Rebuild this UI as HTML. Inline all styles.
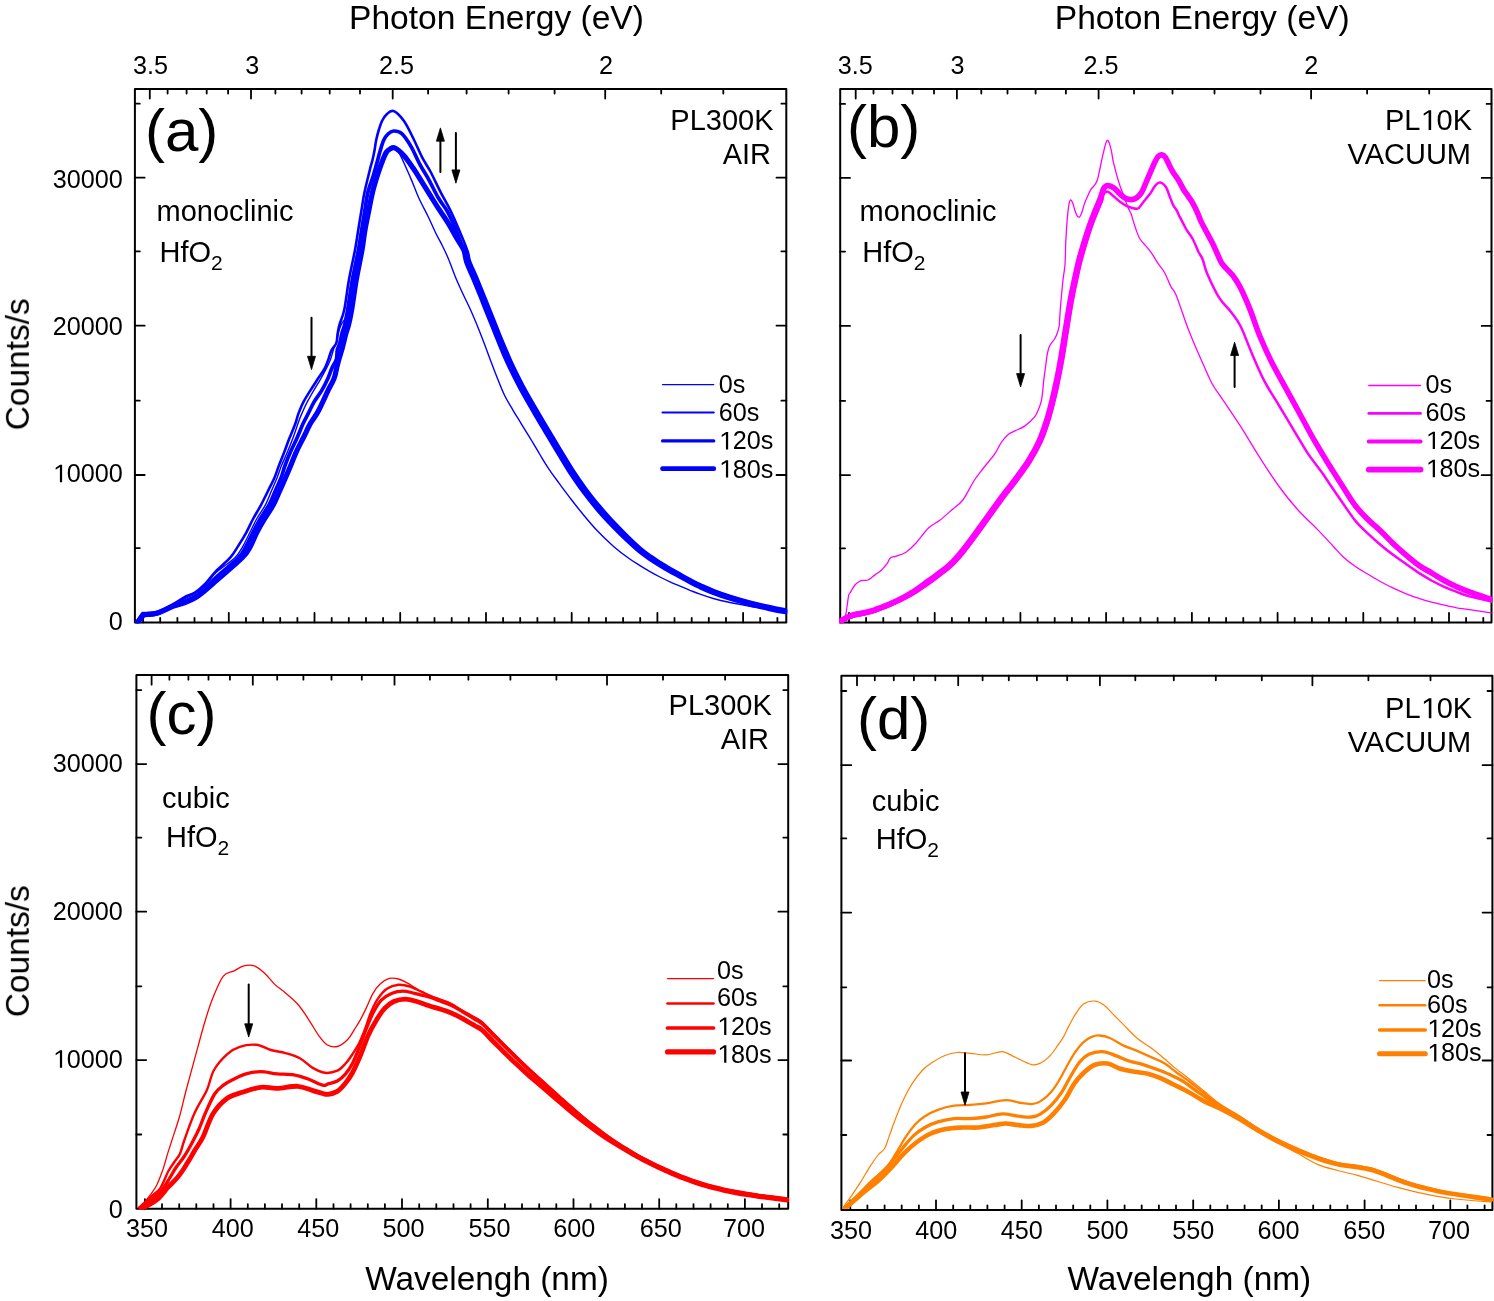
<!DOCTYPE html>
<html><head><meta charset="utf-8"><title>PL spectra HfO2</title>
<style>html,body{margin:0;padding:0;background:#fff;overflow:hidden}svg{display:block}</style>
</head><body>
<svg width="1494" height="1301" viewBox="0 0 1494 1301">
<rect width="1494" height="1301" fill="#fff"/>
<defs>
<clipPath id="clipa"><rect x="133.9" y="88.0" width="653.4" height="535.4"/></clipPath>
<clipPath id="clipb"><rect x="839.2" y="88.0" width="653.3" height="535.4"/></clipPath>
<clipPath id="clipc"><rect x="135.4" y="674.1" width="653.8" height="535.6"/></clipPath>
<clipPath id="clipd"><rect x="840.4" y="674.7" width="653.0" height="536.2"/></clipPath>
</defs>
<rect x="134.9" y="89.0" width="651.4" height="533.4" fill="none" stroke="#000" stroke-width="2" stroke-linejoin="round"/>
<path d="M134.9,548.1 h4.9 M786.3,548.1 h-4.9 M134.9,475.0 h9.8 M786.3,475.0 h-9.8 M134.9,400.7 h4.9 M786.3,400.7 h-4.9 M134.9,325.7 h9.8 M786.3,325.7 h-9.8 M134.9,251.4 h4.9 M786.3,251.4 h-4.9 M134.9,177.7 h9.8 M786.3,177.7 h-9.8 M134.9,103.7 h4.9 M786.3,103.7 h-4.9 M143.1,622.4 v-9.6 M160.2,622.4 v-4.6 M177.4,622.4 v-4.6 M194.5,622.4 v-4.6 M211.7,622.4 v-4.6 M228.8,622.4 v-9.6 M246.0,622.4 v-4.6 M263.1,622.4 v-4.6 M280.2,622.4 v-4.6 M297.4,622.4 v-4.6 M314.5,622.4 v-9.6 M331.7,622.4 v-4.6 M348.8,622.4 v-4.6 M366.0,622.4 v-4.6 M383.1,622.4 v-4.6 M400.2,622.4 v-9.6 M417.4,622.4 v-4.6 M434.5,622.4 v-4.6 M451.7,622.4 v-4.6 M468.8,622.4 v-4.6 M486.0,622.4 v-9.6 M503.1,622.4 v-4.6 M520.2,622.4 v-4.6 M537.4,622.4 v-4.6 M554.5,622.4 v-4.6 M571.7,622.4 v-9.6 M588.8,622.4 v-4.6 M606.0,622.4 v-4.6 M623.1,622.4 v-4.6 M640.2,622.4 v-4.6 M657.4,622.4 v-9.6 M674.5,622.4 v-4.6 M691.7,622.4 v-4.6 M708.8,622.4 v-4.6 M726.0,622.4 v-4.6 M743.1,622.4 v-9.6 M760.2,622.4 v-4.6 M777.4,622.4 v-4.6 M723.3,89.0 v4.6 M661.2,89.0 v4.6 M605.2,89.0 v9.6 M554.6,89.0 v4.6 M508.6,89.0 v4.6 M466.6,89.0 v4.6 M428.1,89.0 v4.6 M392.7,89.0 v9.6 M360.0,89.0 v4.6 M329.7,89.0 v4.6 M301.6,89.0 v4.6 M275.4,89.0 v4.6 M251.0,89.0 v9.6 M228.1,89.0 v4.6 M206.7,89.0 v4.6 M186.6,89.0 v4.6 M167.6,89.0 v4.6 M149.8,89.0 v9.6" stroke="#000" stroke-width="1.8" stroke-linecap="round" fill="none"/>
<rect x="840.2" y="89.0" width="651.3" height="533.4" fill="none" stroke="#000" stroke-width="2" stroke-linejoin="round"/>
<path d="M840.2,548.3 h4.9 M1491.5,548.3 h-4.9 M840.2,475.2 h9.8 M1491.5,475.2 h-9.8 M840.2,400.9 h4.9 M1491.5,400.9 h-4.9 M840.2,325.9 h9.8 M1491.5,325.9 h-9.8 M840.2,251.6 h4.9 M1491.5,251.6 h-4.9 M840.2,177.9 h9.8 M1491.5,177.9 h-9.8 M840.2,103.9 h4.9 M1491.5,103.9 h-4.9 M849.0,622.4 v-9.6 M866.1,622.4 v-4.6 M883.3,622.4 v-4.6 M900.4,622.4 v-4.6 M917.6,622.4 v-4.6 M934.7,622.4 v-9.6 M951.9,622.4 v-4.6 M969.0,622.4 v-4.6 M986.1,622.4 v-4.6 M1003.3,622.4 v-4.6 M1020.4,622.4 v-9.6 M1037.6,622.4 v-4.6 M1054.7,622.4 v-4.6 M1071.9,622.4 v-4.6 M1089.0,622.4 v-4.6 M1106.1,622.4 v-9.6 M1123.3,622.4 v-4.6 M1140.4,622.4 v-4.6 M1157.6,622.4 v-4.6 M1174.7,622.4 v-4.6 M1191.9,622.4 v-9.6 M1209.0,622.4 v-4.6 M1226.1,622.4 v-4.6 M1243.3,622.4 v-4.6 M1260.4,622.4 v-4.6 M1277.6,622.4 v-9.6 M1294.7,622.4 v-4.6 M1311.9,622.4 v-4.6 M1329.0,622.4 v-4.6 M1346.1,622.4 v-4.6 M1363.3,622.4 v-9.6 M1380.4,622.4 v-4.6 M1397.6,622.4 v-4.6 M1414.7,622.4 v-4.6 M1431.9,622.4 v-4.6 M1449.0,622.4 v-9.6 M1466.1,622.4 v-4.6 M1483.3,622.4 v-4.6 M1429.2,89.0 v4.6 M1367.1,89.0 v4.6 M1311.1,89.0 v9.6 M1260.5,89.0 v4.6 M1214.5,89.0 v4.6 M1172.5,89.0 v4.6 M1134.0,89.0 v4.6 M1098.6,89.0 v9.6 M1065.9,89.0 v4.6 M1035.6,89.0 v4.6 M1007.5,89.0 v4.6 M981.3,89.0 v4.6 M956.9,89.0 v9.6 M934.0,89.0 v4.6 M912.6,89.0 v4.6 M892.5,89.0 v4.6 M873.5,89.0 v4.6 M855.7,89.0 v9.6" stroke="#000" stroke-width="1.8" stroke-linecap="round" fill="none"/>
<rect x="136.4" y="675.1" width="651.8" height="533.6" fill="none" stroke="#000" stroke-width="2" stroke-linejoin="round"/>
<path d="M136.4,1134.5 h4.9 M788.2,1134.5 h-4.9 M136.4,1060.1 h9.8 M788.2,1060.1 h-9.8 M136.4,986.3 h4.9 M788.2,986.3 h-4.9 M136.4,911.7 h9.8 M788.2,911.7 h-9.8 M136.4,837.6 h4.9 M788.2,837.6 h-4.9 M136.4,764.1 h9.8 M788.2,764.1 h-9.8 M136.4,690.1 h4.9 M788.2,690.1 h-4.9 M144.9,1208.7 v-9.6 M162.0,1208.7 v-4.6 M179.2,1208.7 v-4.6 M196.3,1208.7 v-4.6 M213.5,1208.7 v-4.6 M230.6,1208.7 v-9.6 M247.8,1208.7 v-4.6 M264.9,1208.7 v-4.6 M282.0,1208.7 v-4.6 M299.2,1208.7 v-4.6 M316.3,1208.7 v-9.6 M333.5,1208.7 v-4.6 M350.6,1208.7 v-4.6 M367.8,1208.7 v-4.6 M384.9,1208.7 v-4.6 M402.0,1208.7 v-9.6 M419.2,1208.7 v-4.6 M436.3,1208.7 v-4.6 M453.5,1208.7 v-4.6 M470.6,1208.7 v-4.6 M487.8,1208.7 v-9.6 M504.9,1208.7 v-4.6 M522.0,1208.7 v-4.6 M539.2,1208.7 v-4.6 M556.3,1208.7 v-4.6 M573.5,1208.7 v-9.6 M590.6,1208.7 v-4.6 M607.8,1208.7 v-4.6 M624.9,1208.7 v-4.6 M642.0,1208.7 v-4.6 M659.2,1208.7 v-9.6 M676.3,1208.7 v-4.6 M693.5,1208.7 v-4.6 M710.6,1208.7 v-4.6 M727.8,1208.7 v-4.6 M744.9,1208.7 v-9.6 M762.0,1208.7 v-4.6 M779.2,1208.7 v-4.6 M725.1,675.1 v4.6 M663.0,675.1 v4.6 M607.0,675.1 v9.6 M556.4,675.1 v4.6 M510.4,675.1 v4.6 M468.4,675.1 v4.6 M429.9,675.1 v4.6 M394.5,675.1 v9.6 M361.8,675.1 v4.6 M331.5,675.1 v4.6 M303.4,675.1 v4.6 M277.2,675.1 v4.6 M252.8,675.1 v9.6 M229.9,675.1 v4.6 M208.5,675.1 v4.6 M188.4,675.1 v4.6 M169.4,675.1 v4.6 M151.6,675.1 v9.6" stroke="#000" stroke-width="1.8" stroke-linecap="round" fill="none"/>
<rect x="841.4" y="675.7" width="651.0" height="534.2" fill="none" stroke="#000" stroke-width="2" stroke-linejoin="round"/>
<path d="M841.4,1135.0 h4.9 M1492.4,1135.0 h-4.9 M841.4,1060.5 h9.8 M1492.4,1060.5 h-9.8 M841.4,987.3 h4.9 M1492.4,987.3 h-4.9 M841.4,912.6 h9.8 M1492.4,912.6 h-9.8 M841.4,838.4 h4.9 M1492.4,838.4 h-4.9 M841.4,765.2 h9.8 M1492.4,765.2 h-9.8 M841.4,691.0 h4.9 M1492.4,691.0 h-4.9 M850.3,1209.9 v-9.6 M867.4,1209.9 v-4.6 M884.6,1209.9 v-4.6 M901.7,1209.9 v-4.6 M918.9,1209.9 v-4.6 M936.0,1209.9 v-9.6 M953.2,1209.9 v-4.6 M970.3,1209.9 v-4.6 M987.4,1209.9 v-4.6 M1004.6,1209.9 v-4.6 M1021.7,1209.9 v-9.6 M1038.9,1209.9 v-4.6 M1056.0,1209.9 v-4.6 M1073.2,1209.9 v-4.6 M1090.3,1209.9 v-4.6 M1107.4,1209.9 v-9.6 M1124.6,1209.9 v-4.6 M1141.7,1209.9 v-4.6 M1158.9,1209.9 v-4.6 M1176.0,1209.9 v-4.6 M1193.2,1209.9 v-9.6 M1210.3,1209.9 v-4.6 M1227.4,1209.9 v-4.6 M1244.6,1209.9 v-4.6 M1261.7,1209.9 v-4.6 M1278.9,1209.9 v-9.6 M1296.0,1209.9 v-4.6 M1313.2,1209.9 v-4.6 M1330.3,1209.9 v-4.6 M1347.4,1209.9 v-4.6 M1364.6,1209.9 v-9.6 M1381.7,1209.9 v-4.6 M1398.9,1209.9 v-4.6 M1416.0,1209.9 v-4.6 M1433.2,1209.9 v-4.6 M1450.3,1209.9 v-9.6 M1467.4,1209.9 v-4.6 M1484.6,1209.9 v-4.6 M1430.5,675.7 v4.6 M1368.4,675.7 v4.6 M1312.4,675.7 v9.6 M1261.8,675.7 v4.6 M1215.8,675.7 v4.6 M1173.8,675.7 v4.6 M1135.3,675.7 v4.6 M1099.9,675.7 v9.6 M1067.2,675.7 v4.6 M1036.9,675.7 v4.6 M1008.8,675.7 v4.6 M982.6,675.7 v4.6 M958.2,675.7 v9.6 M935.3,675.7 v4.6 M913.9,675.7 v4.6 M893.8,675.7 v4.6 M874.8,675.7 v4.6 M857.0,675.7 v9.6" stroke="#000" stroke-width="1.8" stroke-linecap="round" fill="none"/>
<g clip-path="url(#clipa)">
<path d="M138.0,622.0 C138.5,621.3 140.0,619.2 141.0,618.0 C142.0,616.8 143.5,615.2 144.0,614.6 C144.5,614.0 141.8,614.9 144.0,614.6 C146.2,614.3 152.5,614.4 157.4,613.0 C162.3,611.6 169.0,607.8 173.5,606.1 C178.0,604.4 180.6,604.1 184.2,602.8 C187.8,601.4 191.3,600.1 194.9,598.0 C198.5,595.9 202.1,592.9 205.6,590.0 C209.1,587.1 209.9,586.3 216.0,580.9 C222.1,575.5 236.5,563.5 242.2,557.7 C248.0,551.9 248.1,550.3 250.5,546.1 C252.9,541.9 254.5,536.9 256.9,532.3 C259.3,527.7 262.0,523.1 264.8,518.5 C267.6,513.9 271.0,509.2 273.5,504.6 C276.0,500.0 277.6,495.5 279.6,491.0 C281.6,486.5 283.7,481.8 285.5,477.7 C287.3,473.6 288.7,470.3 290.5,466.1 C292.3,461.9 294.0,456.9 296.1,452.3 C298.2,447.7 300.6,443.2 303.0,438.5 C305.4,433.8 307.9,428.0 310.2,423.8 C312.5,419.6 314.9,417.0 317.0,413.4 C319.1,409.8 320.9,405.7 322.8,401.9 C324.6,398.1 326.2,394.3 328.1,390.4 C330.0,386.5 332.7,382.0 334.1,378.3 C335.5,374.6 335.8,371.6 336.6,368.4 C337.4,365.2 338.0,362.3 338.9,359.2 C339.8,356.1 340.9,352.7 341.7,350.0 C342.5,347.3 342.8,345.8 343.5,343.1 C344.2,340.4 344.9,336.9 345.8,333.8 C346.6,330.7 347.6,328.6 348.6,324.6 C349.6,320.6 350.3,317.4 351.6,310.0 C352.9,302.6 354.5,290.0 356.2,280.0 C357.9,270.0 360.6,258.1 362.0,250.0 C363.4,241.9 363.6,238.2 364.7,231.5 C365.8,224.8 367.6,216.5 368.9,210.0 C370.2,203.5 371.1,198.1 372.5,192.3 C373.9,186.5 375.8,180.4 377.5,175.0 C379.2,169.6 381.3,163.8 382.8,160.0 C384.3,156.2 385.3,153.8 386.5,152.0 C387.7,150.2 388.6,149.7 390.0,149.0 C391.4,148.3 392.7,146.9 395.0,148.0 C397.3,149.1 400.8,152.1 403.8,155.4 C406.8,158.7 410.2,163.8 413.1,168.0 C416.0,172.2 418.2,176.1 421.1,180.7 C424.0,185.3 427.5,191.1 430.4,195.7 C433.3,200.3 435.5,204.0 438.4,208.4 C441.3,212.8 444.6,217.3 447.7,222.3 C450.8,227.3 454.2,233.8 456.9,238.4 C459.6,243.0 462.1,246.0 463.8,250.0 C465.5,254.0 465.1,257.6 466.8,262.5 C468.5,267.4 471.8,274.0 474.1,279.5 C476.4,285.0 478.6,290.3 480.7,295.5 C482.8,300.7 484.6,305.5 486.6,310.5 C488.6,315.5 490.8,320.8 492.7,325.5 C494.6,330.2 496.2,334.4 498.0,338.8 C499.8,343.3 501.6,347.7 503.5,352.2 C505.4,356.6 507.2,360.8 509.5,365.6 C511.7,370.3 514.3,375.6 516.9,380.6 C519.4,385.6 522.1,390.6 524.9,395.6 C527.7,400.6 530.7,405.7 533.6,410.7 C536.5,415.7 539.4,420.7 542.4,425.7 C545.3,430.7 548.4,435.7 551.4,440.7 C554.4,445.7 557.2,450.4 560.4,455.7 C563.6,461.0 566.8,466.5 570.6,472.4 C574.5,478.2 578.8,484.7 583.4,490.8 C587.9,496.9 592.8,503.1 597.8,509.0 C602.9,514.9 608.7,521.1 613.6,526.2 C618.5,531.3 622.9,535.6 627.2,539.7 C631.5,543.7 635.6,547.5 639.3,550.6 C643.0,553.7 646.1,555.8 649.4,558.1 C652.8,560.4 656.1,562.5 659.5,564.5 C662.8,566.6 666.2,568.6 669.5,570.5 C672.9,572.4 676.2,574.1 679.6,576.0 C682.9,577.8 686.3,579.7 689.6,581.4 C692.9,583.2 695.7,584.7 699.6,586.5 C703.6,588.3 708.0,590.3 713.0,592.2 C718.0,594.1 723.6,596.1 729.7,598.1 C735.9,600.0 743.3,602.2 749.8,603.9 C756.2,605.6 762.5,607.0 768.5,608.4 C774.5,609.7 782.9,611.3 785.8,611.8" fill="none" stroke="#0000ff" stroke-width="5.20" stroke-linejoin="round" stroke-linecap="round"/>
<path d="M137.5,621.8 C138.0,621.1 139.3,619.1 140.3,617.8 C141.3,616.5 142.7,614.4 143.3,614.0 C143.9,613.6 141.7,615.4 144.0,615.3 C146.3,615.3 152.5,615.2 157.4,613.7 C162.3,612.2 169.0,608.3 173.5,606.3 C178.0,604.2 180.6,603.0 184.2,601.4 C187.8,599.7 191.3,598.8 194.9,596.6 C198.5,594.3 202.1,591.2 205.6,588.0 C209.1,584.8 210.5,582.4 216.0,577.3 C221.5,572.3 233.4,562.9 238.4,557.7 C243.4,552.5 243.7,550.3 246.1,546.1 C248.5,541.9 250.6,536.9 253.0,532.3 C255.4,527.7 257.7,523.1 260.4,518.5 C263.1,513.9 266.7,509.2 269.2,504.6 C271.7,500.0 273.2,495.5 275.2,491.0 C277.2,486.5 279.5,481.8 281.1,477.7 C282.7,473.6 283.3,470.3 284.8,466.1 C286.3,461.9 288.3,456.9 290.3,452.3 C292.3,447.7 294.7,443.2 296.8,438.5 C298.9,433.8 301.1,428.0 303.0,423.8 C304.9,419.6 306.4,417.0 308.3,413.4 C310.2,409.8 311.9,405.7 314.1,401.9 C316.4,398.1 319.5,394.3 321.8,390.4 C324.1,386.5 326.3,382.0 328.0,378.3 C329.7,374.6 330.4,371.6 331.8,368.4 C333.2,365.2 335.5,362.3 336.4,359.2 C337.3,356.1 336.7,352.7 337.3,350.0 C337.9,347.3 339.1,345.8 339.8,343.1 C340.6,340.4 341.0,336.9 341.8,333.8 C342.6,330.7 343.7,328.6 344.7,324.6 C345.7,320.6 346.3,317.4 347.6,310.0 C348.9,302.6 350.5,290.0 352.3,280.0 C354.1,270.0 356.9,258.1 358.4,250.0 C359.9,241.9 360.3,238.2 361.4,231.5 C362.5,224.8 363.8,216.5 364.9,210.0 C366.0,203.5 366.5,198.1 367.9,192.3 C369.3,186.5 371.9,180.4 373.5,175.0 C375.1,169.6 376.6,164.2 377.7,160.0 C378.8,155.8 379.4,153.3 380.4,150.0 C381.4,146.7 382.5,142.7 383.8,140.0 C385.1,137.3 386.4,135.5 388.0,134.0 C389.6,132.5 391.2,131.1 393.5,131.0 C395.8,130.9 398.6,130.9 401.5,133.4 C404.4,135.9 407.7,140.9 410.8,146.1 C413.9,151.3 417.1,159.2 420.0,164.6 C422.9,170.0 425.0,172.8 428.1,178.4 C431.2,184.0 435.1,192.4 438.4,198.0 C441.7,203.6 444.8,206.7 447.7,212.0 C450.6,217.3 452.6,221.7 456.0,230.0 C459.4,238.3 465.0,253.7 468.3,261.9 C471.5,270.0 473.3,273.4 475.6,278.9 C477.9,284.4 480.1,289.7 482.2,294.9 C484.3,300.1 486.1,304.9 488.1,309.9 C490.1,314.9 492.3,320.2 494.1,324.9 C496.0,329.6 497.7,333.8 499.5,338.2 C501.3,342.7 503.1,347.1 505.0,351.5 C506.9,356.0 508.7,360.2 510.9,364.9 C513.1,369.6 515.7,374.9 518.3,379.9 C520.9,384.9 523.5,389.9 526.3,394.9 C529.0,399.9 532.1,404.8 535.0,409.8 C537.9,414.8 540.8,419.8 543.8,424.8 C546.7,429.8 549.8,434.8 552.8,439.8 C555.8,444.8 558.6,449.6 561.8,454.8 C565.0,460.1 568.2,465.7 572.0,471.5 C575.8,477.3 580.1,483.7 584.6,489.8 C589.1,495.9 594.0,502.1 599.0,508.0 C604.0,513.9 609.8,520.1 614.7,525.2 C619.6,530.3 623.9,534.6 628.2,538.6 C632.4,542.7 636.5,546.5 640.2,549.6 C643.8,552.7 646.8,554.8 650.1,557.1 C653.5,559.4 656.8,561.4 660.1,563.5 C663.4,565.6 666.8,567.6 670.1,569.5 C673.4,571.4 676.8,573.2 680.1,575.1 C683.4,576.9 686.8,578.8 690.1,580.5 C693.4,582.3 696.2,583.8 700.1,585.6 C704.0,587.4 708.4,589.3 713.4,591.2 C718.4,593.1 724.0,595.1 730.1,597.1 C736.2,599.0 743.6,601.2 750.1,602.9 C756.5,604.6 762.7,606.0 768.7,607.3 C774.7,608.7 783.1,610.2 786.0,610.8" fill="none" stroke="#0000ff" stroke-width="3.70" stroke-linejoin="round" stroke-linecap="round"/>
<path d="M136.8,621.5 C137.2,620.8 138.6,618.9 139.5,617.5 C140.4,616.1 141.8,613.9 142.5,613.2 C143.2,612.5 141.5,613.6 144.0,613.4 C146.5,613.2 152.5,613.4 157.4,611.8 C162.3,610.2 169.0,606.2 173.5,603.8 C178.0,601.4 180.6,599.2 184.2,597.3 C187.8,595.4 191.3,594.8 194.9,592.5 C198.5,590.2 202.1,587.0 205.6,583.4 C209.1,579.8 211.9,575.4 216.0,571.1 C220.1,566.8 226.5,561.9 230.2,557.7 C233.9,553.5 235.4,550.3 238.1,546.1 C240.8,541.9 243.9,536.9 246.4,532.3 C248.9,527.7 250.8,523.1 253.3,518.5 C255.8,513.9 258.8,509.2 261.2,504.6 C263.6,500.0 265.8,495.5 268.0,491.0 C270.2,486.5 272.7,481.8 274.5,477.7 C276.3,473.6 277.1,470.3 278.7,466.1 C280.3,461.9 282.4,456.9 284.2,452.3 C286.0,447.7 287.4,443.2 289.3,438.5 C291.2,433.8 293.8,428.0 295.3,423.8 C296.8,419.6 297.1,417.0 298.5,413.4 C299.9,409.8 301.5,405.7 303.5,401.9 C305.5,398.1 307.9,394.3 310.4,390.4 C312.8,386.5 315.8,382.0 318.2,378.3 C320.6,374.6 323.0,371.6 324.7,368.4 C326.4,365.2 327.2,362.3 328.4,359.2 C329.5,356.1 330.3,352.7 331.6,350.0 C332.9,347.3 335.3,345.8 336.3,343.1 C337.3,340.4 337.1,336.9 337.6,333.8 C338.1,330.7 338.4,328.6 339.5,324.6 C340.6,320.6 342.6,317.4 344.2,310.0 C345.8,302.6 347.1,290.0 348.9,280.0 C350.7,270.0 353.5,258.1 355.0,250.0 C356.5,241.9 356.9,238.2 358.0,231.5 C359.1,224.8 360.4,216.5 361.5,210.0 C362.6,203.5 363.1,199.0 364.5,192.3 C365.9,185.6 368.5,175.4 369.8,170.0 C371.1,164.6 371.7,163.3 372.5,160.0 C373.3,156.7 374.0,153.3 374.6,150.0 C375.2,146.7 375.5,143.3 376.2,140.0 C376.9,136.7 377.8,133.2 378.8,130.0 C379.8,126.8 380.7,123.6 382.0,121.0 C383.3,118.4 384.6,116.2 386.5,114.5 C388.4,112.8 390.6,110.0 393.5,111.0 C396.4,112.0 400.5,116.3 403.8,120.8 C407.1,125.3 410.0,131.8 413.1,138.0 C416.2,144.2 419.4,152.1 422.3,157.7 C425.2,163.3 427.3,165.7 430.4,171.5 C433.5,177.3 437.4,186.0 440.7,192.3 C444.0,198.7 446.9,203.3 450.0,209.6 C453.1,215.9 456.3,223.4 459.2,230.3 C462.1,237.2 465.7,245.9 467.5,251.0 C469.3,256.1 468.4,256.6 470.0,261.1 C471.7,265.7 475.0,272.6 477.3,278.1 C479.6,283.7 481.8,289.0 483.9,294.2 C486.0,299.3 487.9,304.2 489.9,309.2 C491.9,314.2 494.0,319.5 495.9,324.2 C497.8,328.9 499.4,333.1 501.2,337.5 C503.0,341.9 504.9,346.4 506.8,350.8 C508.7,355.2 510.4,359.4 512.6,364.1 C514.8,368.8 517.4,374.0 520.0,379.0 C522.5,384.0 525.1,388.9 527.9,393.9 C530.7,398.9 533.7,403.9 536.6,408.9 C539.5,413.9 542.4,418.9 545.4,423.9 C548.4,428.9 551.4,433.9 554.4,438.9 C557.4,443.9 560.2,448.6 563.4,453.9 C566.6,459.1 569.8,464.7 573.6,470.5 C577.4,476.3 581.7,482.6 586.2,488.7 C590.7,494.7 595.5,500.9 600.5,506.7 C605.4,512.6 611.2,518.9 616.0,524.0 C620.8,529.1 625.1,533.4 629.3,537.4 C633.5,541.5 637.6,545.3 641.2,548.4 C644.8,551.5 647.7,553.5 651.0,555.9 C654.3,558.2 657.6,560.2 660.9,562.3 C664.2,564.4 667.5,566.4 670.8,568.4 C674.1,570.3 677.4,572.1 680.7,574.0 C684.0,575.8 687.3,577.7 690.7,579.4 C694.0,581.2 696.7,582.7 700.6,584.5 C704.5,586.2 708.9,588.2 713.8,590.1 C718.8,592.0 724.3,594.0 730.4,595.9 C736.5,597.8 743.9,600.0 750.4,601.7 C756.8,603.4 763.0,604.8 769.0,606.1 C775.0,607.5 783.4,609.0 786.3,609.6" fill="none" stroke="#0000ff" stroke-width="2.60" stroke-linejoin="round" stroke-linecap="round"/>
<path d="M137.0,621.8 C137.5,621.1 138.8,618.9 139.8,617.5 C140.8,616.1 142.1,613.9 142.8,613.5 C143.5,613.1 141.6,614.9 144.0,614.9 C146.4,614.9 152.5,614.9 157.4,613.3 C162.3,611.7 169.0,607.7 173.5,605.3 C178.0,602.9 180.6,600.7 184.2,598.8 C187.8,596.9 191.3,596.3 194.9,594.0 C198.5,591.7 202.1,588.5 205.6,584.9 C209.1,581.3 211.1,577.1 216.0,572.6 C220.9,568.1 230.5,562.1 235.0,557.7 C239.5,553.3 240.5,550.3 243.0,546.1 C245.5,541.9 247.7,536.9 250.0,532.3 C252.3,527.7 254.3,523.1 256.9,518.5 C259.5,513.9 263.2,509.2 265.6,504.6 C268.0,500.0 269.5,495.5 271.4,491.0 C273.3,486.5 275.4,481.8 277.1,477.7 C278.8,473.6 279.6,470.3 281.3,466.1 C283.0,461.9 285.4,456.9 287.3,452.3 C289.2,447.7 291.0,443.2 292.8,438.5 C294.6,433.8 296.4,428.0 297.9,423.8 C299.4,419.6 300.3,417.0 301.9,413.4 C303.5,409.8 305.3,405.7 307.3,401.9 C309.3,398.1 311.5,394.3 313.8,390.4 C316.1,386.5 318.9,382.0 321.0,378.3 C323.1,374.6 324.8,371.6 326.4,368.4 C328.0,365.2 329.4,362.3 330.6,359.2 C331.8,356.1 332.4,352.7 333.3,350.0 C334.2,347.3 335.4,345.8 336.2,343.1 C337.0,340.4 337.4,336.9 338.2,333.8 C339.0,330.7 339.3,328.6 341.2,324.6 C343.1,320.6 347.3,317.4 349.5,310.0 C351.7,302.6 352.7,290.0 354.5,280.0 C356.3,270.0 359.0,258.1 360.5,250.0 C362.0,241.9 362.4,238.2 363.6,231.5 C364.8,224.8 366.2,216.5 367.5,210.0 C368.8,203.5 370.1,198.1 371.5,192.3 C372.9,186.5 374.4,180.1 376.0,175.0 C377.6,169.9 379.4,165.7 381.0,162.0 C382.6,158.3 384.0,155.1 385.5,153.0 C387.0,150.9 388.4,150.2 390.0,149.5 C391.6,148.8 393.3,147.5 395.0,148.5 C396.7,149.5 397.8,150.4 400.4,155.4 C403.0,160.4 407.7,171.3 410.8,178.4 C413.9,185.5 415.9,191.7 418.8,198.0 C421.7,204.3 425.2,210.5 428.1,216.5 C431.0,222.5 433.8,229.1 436.1,233.8 C438.4,238.6 439.9,240.8 442.0,245.0 C444.1,249.2 446.3,253.8 448.5,259.0 C450.7,264.2 452.7,270.3 455.0,276.0 C457.3,281.7 460.1,287.7 462.5,293.0 C464.9,298.3 467.3,302.7 469.6,307.8 C471.9,312.9 474.1,318.0 476.4,323.5 C478.6,328.9 480.8,334.5 483.0,340.3 C485.3,346.2 487.6,352.6 489.9,358.7 C492.2,364.8 494.5,370.9 496.9,377.0 C499.3,383.1 501.8,389.6 504.4,395.0 C507.0,400.4 509.6,404.4 512.5,409.3 C515.3,414.2 518.6,419.3 521.6,424.3 C524.7,429.3 527.8,434.2 530.9,439.3 C534.0,444.4 537.2,450.0 540.2,455.0 C543.2,460.0 545.9,464.6 549.1,469.3 C552.3,474.1 555.9,478.8 559.2,483.3 C562.5,487.9 565.4,491.8 569.1,496.7 C572.8,501.5 576.8,506.8 581.4,512.3 C586.0,517.9 591.2,524.3 596.6,530.0 C601.9,535.7 608.3,541.7 613.6,546.4 C619.0,551.1 624.3,555.1 628.7,558.3 C633.1,561.5 636.5,563.4 640.0,565.6 C643.5,567.8 646.7,569.7 650.0,571.6 C653.3,573.5 656.7,575.3 660.0,577.0 C663.3,578.7 666.7,580.3 670.0,581.8 C673.3,583.3 676.7,584.7 680.0,586.1 C683.3,587.5 686.7,588.9 690.0,590.3 C693.3,591.6 696.1,592.9 700.0,594.2 C703.9,595.6 708.3,597.1 713.3,598.5 C718.3,599.9 723.9,601.2 730.0,602.5 C736.1,603.8 743.6,605.1 750.0,606.2 C756.4,607.3 762.7,608.1 768.7,609.0 C774.7,609.8 783.1,610.9 786.0,611.3" fill="none" stroke="#0000ff" stroke-width="1.40" stroke-linejoin="round" stroke-linecap="round"/>
</g>
<g clip-path="url(#clipb)">
<path d="M840.8,622.0 C841.2,621.5 842.7,620.1 843.5,619.0 C844.3,617.9 845.0,616.8 845.5,615.5 C846.0,614.2 846.0,613.5 846.3,611.5 C846.6,609.5 847.1,606.0 847.5,603.2 C847.9,600.4 848.3,596.7 848.8,594.9 C849.3,593.1 849.8,593.4 850.4,592.4 C851.0,591.4 851.7,590.0 852.5,588.7 C853.3,587.4 854.4,585.6 855.4,584.5 C856.4,583.4 857.7,582.6 858.7,582.0 C859.7,581.4 860.2,580.9 861.2,580.6 C862.2,580.3 863.9,580.5 865.0,580.4 C866.1,580.3 866.9,580.4 867.9,580.0 C868.9,579.6 870.0,578.8 871.2,577.9 C872.4,577.0 873.9,575.6 875.3,574.6 C876.7,573.6 878.3,572.6 879.5,571.7 C880.7,570.8 881.2,570.4 882.5,569.0 C883.8,567.6 885.9,565.4 887.1,563.6 C888.3,561.9 888.9,559.6 889.9,558.5 C890.9,557.4 891.9,557.2 893.0,556.8 C894.1,556.4 894.4,556.9 896.5,556.1 C898.6,555.4 902.8,554.3 905.9,552.3 C909.0,550.2 911.5,547.8 915.3,543.8 C919.1,539.8 924.4,531.9 928.5,528.0 C932.6,524.1 935.9,523.3 939.8,520.3 C943.7,517.3 947.9,513.4 951.7,510.0 C955.5,506.6 959.0,505.0 962.8,500.0 C966.6,495.0 971.1,485.2 974.5,480.0 C977.9,474.8 979.8,472.8 983.1,468.5 C986.4,464.2 991.6,458.4 994.4,454.4 C997.2,450.4 998.4,447.1 1000.0,444.6 C1001.6,442.1 1002.3,441.0 1003.8,439.2 C1005.3,437.4 1007.3,435.2 1009.2,433.8 C1011.1,432.4 1012.8,432.0 1015.4,430.7 C1018.0,429.4 1021.4,428.4 1024.6,426.1 C1027.8,423.8 1032.0,420.3 1034.6,416.9 C1037.2,413.4 1038.8,408.5 1040.0,405.4 C1041.2,402.2 1041.3,402.2 1041.9,398.0 C1042.5,393.8 1043.2,385.5 1043.8,380.0 C1044.4,374.5 1045.2,369.3 1045.8,365.0 C1046.4,360.7 1046.7,357.0 1047.3,354.0 C1047.9,351.0 1048.5,348.8 1049.2,347.0 C1049.9,345.2 1050.6,344.3 1051.5,343.0 C1052.4,341.7 1053.7,340.5 1054.6,339.0 C1055.5,337.5 1056.1,336.2 1056.9,334.0 C1057.7,331.8 1058.8,328.3 1059.2,326.0 C1059.7,323.7 1059.3,323.8 1059.6,320.0 C1059.9,316.2 1060.2,309.7 1060.8,303.0 C1061.4,296.3 1062.3,286.4 1063.0,280.0 C1063.7,273.6 1064.5,270.9 1065.0,264.5 C1065.5,258.1 1065.4,249.1 1065.8,241.4 C1066.2,233.7 1066.8,224.4 1067.3,218.4 C1067.8,212.4 1068.3,208.4 1068.8,205.3 C1069.3,202.2 1069.8,200.4 1070.4,200.0 C1071.1,199.6 1071.9,201.2 1072.7,203.0 C1073.5,204.8 1074.2,208.5 1075.0,210.7 C1075.8,212.9 1076.5,215.1 1077.3,216.1 C1078.1,217.1 1078.8,217.5 1079.6,216.9 C1080.4,216.3 1081.1,214.4 1081.9,212.3 C1082.7,210.2 1083.3,207.2 1084.2,204.6 C1085.1,202.0 1086.2,199.5 1087.3,196.9 C1088.4,194.3 1089.8,191.2 1091.1,189.2 C1092.4,187.1 1094.0,186.1 1095.0,184.6 C1096.0,183.1 1096.6,182.1 1097.3,180.0 C1098.0,177.9 1098.2,176.5 1099.2,172.2 C1100.2,167.8 1101.8,159.2 1103.1,153.9 C1104.4,148.6 1105.9,141.3 1107.2,140.4 C1108.5,139.5 1109.9,145.0 1110.9,148.7 C1112.0,152.4 1112.2,157.1 1113.5,162.7 C1114.8,168.3 1117.2,177.1 1118.8,182.3 C1120.4,187.5 1121.6,189.9 1123.1,194.1 C1124.6,198.3 1126.7,204.3 1128.0,207.6 C1129.3,210.9 1130.3,211.8 1131.1,213.8 C1131.9,215.9 1132.2,217.5 1132.9,219.9 C1133.6,222.3 1134.4,224.9 1135.5,228.0 C1136.6,231.1 1137.9,235.4 1139.7,238.5 C1141.5,241.6 1144.2,243.9 1146.2,246.3 C1148.2,248.7 1149.4,250.1 1151.4,252.9 C1153.4,255.7 1155.8,260.0 1158.0,263.3 C1160.2,266.6 1162.3,268.6 1164.5,272.5 C1166.7,276.4 1169.0,283.1 1171.0,286.9 C1173.0,290.7 1173.4,288.3 1176.2,295.3 C1179.0,302.3 1184.1,318.4 1188.1,328.7 C1192.1,339.0 1196.1,348.2 1200.1,357.3 C1204.1,366.4 1208.4,376.8 1212.0,383.5 C1215.6,390.2 1216.7,390.7 1221.5,397.8 C1226.3,404.9 1234.2,416.5 1240.6,426.4 C1247.0,436.3 1253.3,447.5 1259.7,457.4 C1266.1,467.3 1272.4,477.3 1278.7,486.0 C1285.0,494.7 1291.4,502.7 1297.8,509.8 C1304.2,517.0 1311.0,522.9 1316.9,528.9 C1322.8,534.9 1328.7,541.4 1333.0,546.0 C1337.3,550.6 1339.0,553.0 1342.7,556.4 C1346.4,559.8 1351.2,563.5 1355.4,566.5 C1359.6,569.5 1363.8,571.7 1368.0,574.2 C1372.2,576.8 1376.5,579.5 1380.7,581.8 C1384.9,584.1 1389.2,586.1 1393.4,588.1 C1397.6,590.1 1401.9,592.1 1406.1,593.8 C1410.3,595.5 1414.6,596.9 1418.8,598.3 C1423.0,599.7 1427.3,601.0 1431.5,602.1 C1435.7,603.2 1440.0,604.2 1444.2,605.2 C1448.4,606.2 1452.6,607.0 1456.8,607.8 C1461.0,608.5 1463.8,608.9 1469.5,609.7 C1475.2,610.5 1487.4,612.3 1491.0,612.8" fill="none" stroke="#ff00ff" stroke-width="1.30" stroke-linejoin="round" stroke-linecap="round"/>
<path d="M841.2,622.7 C841.6,622.5 842.6,621.8 843.5,621.3 C844.4,620.7 845.5,620.1 846.6,619.5 C847.8,618.9 849.0,618.3 850.5,617.7 C851.9,617.2 853.7,616.7 855.3,616.3 C857.0,615.9 858.6,615.7 860.3,615.3 C861.9,615.0 863.6,614.7 865.3,614.3 C867.0,613.9 868.7,613.5 870.4,613.1 C872.1,612.6 873.7,612.2 875.4,611.6 C877.2,611.0 879.1,610.2 880.8,609.5 C882.6,608.9 883.9,608.3 885.9,607.5 C887.8,606.6 890.1,605.7 892.6,604.7 C895.1,603.6 897.7,602.5 900.7,601.0 C903.8,599.5 907.5,597.6 910.9,595.7 C914.3,593.7 917.7,591.4 921.0,589.2 C924.4,587.0 927.8,584.7 931.2,582.2 C934.5,579.8 938.0,577.1 941.2,574.7 C944.4,572.3 946.9,570.8 950.2,567.7 C953.5,564.7 957.2,560.8 961.0,556.4 C964.8,552.0 968.4,547.1 972.8,541.2 C977.2,535.3 982.6,527.8 987.4,521.2 C992.2,514.5 996.8,507.9 1001.8,501.2 C1006.7,494.5 1012.2,487.7 1017.0,481.2 C1021.8,474.7 1026.5,468.6 1030.6,462.1 C1034.7,455.5 1038.5,448.6 1041.6,441.8 C1044.7,435.1 1046.8,428.5 1049.0,421.6 C1051.2,414.7 1053.0,407.3 1054.7,400.5 C1056.4,393.6 1057.8,387.1 1059.2,380.4 C1060.6,373.7 1061.9,367.0 1063.1,360.3 C1064.3,353.7 1065.3,347.0 1066.3,340.3 C1067.4,333.6 1068.5,327.0 1069.5,320.3 C1070.6,313.7 1071.6,307.0 1072.9,300.4 C1074.1,293.7 1075.5,287.1 1077.0,280.4 C1078.4,273.8 1079.8,267.1 1081.5,260.5 C1083.3,253.9 1085.4,246.7 1087.3,240.6 C1089.1,234.5 1091.0,229.0 1092.7,224.0 C1094.5,219.0 1096.4,214.6 1098.0,210.7 C1099.5,206.9 1101.2,203.5 1102.1,200.8 C1103.1,198.1 1102.7,196.0 1103.5,194.5 C1104.3,193.0 1105.8,191.6 1107.0,191.5 C1108.2,191.4 1108.8,192.2 1111.0,194.0 C1113.2,195.8 1117.5,199.9 1120.3,202.0 C1123.1,204.1 1125.2,205.4 1128.0,206.5 C1130.8,207.6 1135.0,209.1 1137.2,208.8 C1139.5,208.5 1140.1,206.1 1141.5,204.5 C1142.9,202.9 1144.3,200.9 1145.8,199.0 C1147.3,197.1 1149.3,195.0 1150.7,192.9 C1152.1,190.8 1153.2,188.3 1154.4,186.7 C1155.6,185.0 1156.9,183.6 1158.1,183.0 C1159.3,182.4 1160.5,182.3 1161.8,183.0 C1163.1,183.7 1164.6,184.7 1165.9,186.9 C1167.2,189.1 1168.4,193.0 1169.6,196.1 C1170.8,199.2 1172.1,203.1 1173.3,205.4 C1174.5,207.7 1175.4,208.1 1176.5,210.0 C1177.6,211.9 1178.6,214.6 1179.8,216.9 C1181.0,219.2 1182.2,221.5 1183.4,223.8 C1184.6,226.1 1185.5,228.2 1187.1,230.7 C1188.6,233.2 1190.8,235.5 1192.7,239.0 C1194.6,242.5 1196.8,248.3 1198.4,251.7 C1200.1,255.1 1201.1,255.6 1202.6,259.3 C1204.1,263.0 1204.5,267.4 1207.2,273.8 C1210.0,280.2 1215.1,291.3 1219.1,297.7 C1223.1,304.1 1227.4,307.2 1231.0,312.0 C1234.6,316.8 1237.0,319.2 1240.6,326.3 C1244.2,333.4 1248.5,345.8 1252.5,354.9 C1256.5,364.0 1260.0,372.8 1264.4,381.1 C1268.8,389.5 1273.9,397.1 1278.7,405.0 C1283.5,412.9 1288.2,420.9 1293.0,428.8 C1297.8,436.7 1302.5,445.4 1307.3,452.6 C1312.1,459.8 1317.8,466.7 1321.6,472.0 C1325.4,477.3 1326.5,479.3 1330.0,484.5 C1333.5,489.7 1338.5,496.9 1342.7,503.0 C1346.9,509.1 1351.2,515.8 1355.4,520.9 C1359.6,526.0 1363.8,529.6 1368.0,533.6 C1372.2,537.6 1376.5,541.4 1380.7,545.0 C1384.9,548.6 1389.2,551.9 1393.4,555.1 C1397.6,558.3 1401.9,561.0 1406.1,564.0 C1410.3,567.0 1414.6,570.1 1418.8,572.9 C1423.0,575.6 1427.3,578.2 1431.5,580.5 C1435.7,582.8 1440.0,584.9 1444.2,586.8 C1448.4,588.7 1452.6,590.3 1456.8,591.9 C1461.0,593.5 1463.8,594.8 1469.5,596.4 C1475.2,598.0 1487.4,600.6 1491.0,601.4" fill="none" stroke="#ff00ff" stroke-width="2.50" stroke-linejoin="round" stroke-linecap="round"/>
<path d="M840.8,622.0 C841.2,621.8 842.2,621.1 843.2,620.6 C844.1,620.1 845.1,619.4 846.3,618.8 C847.5,618.2 848.7,617.6 850.2,617.0 C851.7,616.5 853.5,616.0 855.2,615.5 C856.8,615.1 858.5,614.9 860.1,614.6 C861.8,614.3 863.5,613.9 865.1,613.5 C866.8,613.2 868.5,612.8 870.2,612.3 C871.8,611.9 873.5,611.4 875.2,610.8 C876.9,610.2 878.8,609.5 880.6,608.8 C882.3,608.1 883.6,607.6 885.6,606.7 C887.5,605.9 889.8,605.0 892.3,604.0 C894.7,602.9 897.3,601.8 900.3,600.3 C903.3,598.7 907.0,596.8 910.4,594.9 C913.8,592.9 917.1,590.6 920.5,588.4 C923.8,586.1 927.2,583.8 930.5,581.4 C933.9,578.9 937.4,576.2 940.5,573.8 C943.7,571.4 946.2,569.9 949.5,566.9 C952.7,563.9 956.4,560.1 960.2,555.7 C963.9,551.3 967.6,546.4 972.0,540.5 C976.3,534.7 981.7,527.2 986.5,520.5 C991.3,513.9 995.9,507.2 1000.9,500.5 C1005.8,493.9 1011.4,487.0 1016.2,480.5 C1020.9,474.0 1025.6,468.0 1029.6,461.5 C1033.7,454.9 1037.5,448.1 1040.6,441.4 C1043.6,434.7 1045.7,428.1 1047.9,421.3 C1050.1,414.4 1051.9,407.1 1053.6,400.2 C1055.3,393.4 1056.8,386.9 1058.1,380.2 C1059.5,373.5 1060.8,366.8 1062.0,360.2 C1063.2,353.5 1064.2,346.8 1065.3,340.1 C1066.3,333.5 1067.4,326.8 1068.5,320.1 C1069.5,313.5 1070.5,306.8 1071.8,300.2 C1073.0,293.5 1074.4,286.8 1075.9,280.2 C1077.3,273.5 1078.7,266.9 1080.5,260.2 C1082.2,253.6 1084.4,246.4 1086.2,240.3 C1088.1,234.2 1089.9,228.6 1091.7,223.6 C1093.5,218.6 1095.4,214.2 1096.9,210.3 C1098.5,206.5 1100.0,203.9 1101.1,200.3 C1102.3,196.8 1102.9,191.1 1104.0,188.8 C1105.1,186.5 1106.3,186.3 1108.0,186.3 C1109.7,186.3 1112.0,187.4 1114.0,188.8 C1116.0,190.2 1118.0,193.1 1120.0,194.8 C1122.0,196.6 1124.0,198.4 1126.0,199.3 C1128.0,200.2 1130.2,200.5 1132.0,200.3 C1133.8,200.1 1135.4,199.5 1137.0,198.3 C1138.6,197.1 1140.0,195.7 1141.5,193.3 C1143.0,190.9 1144.3,187.3 1145.8,183.8 C1147.3,180.3 1149.3,175.6 1150.7,172.3 C1152.1,169.0 1153.2,166.3 1154.4,163.8 C1155.6,161.3 1156.9,158.7 1158.1,157.3 C1159.3,155.9 1160.6,155.4 1161.8,155.6 C1163.0,155.8 1164.3,156.6 1165.5,158.3 C1166.7,160.0 1168.0,163.4 1169.2,165.8 C1170.4,168.2 1171.4,170.3 1172.9,172.8 C1174.4,175.3 1176.7,177.9 1178.4,180.8 C1180.2,183.7 1181.8,187.3 1183.4,190.0 C1185.0,192.7 1186.5,194.6 1188.1,196.9 C1189.6,199.2 1191.2,201.2 1192.7,203.9 C1194.2,206.6 1195.9,210.0 1197.3,213.1 C1198.7,216.2 1199.6,219.4 1201.2,222.7 C1202.8,226.0 1204.9,229.6 1206.7,233.1 C1208.5,236.6 1210.3,239.5 1212.3,243.5 C1214.3,247.5 1216.8,253.7 1218.5,257.3 C1220.2,260.9 1220.0,261.8 1222.5,265.1 C1225.0,268.4 1230.4,273.0 1233.4,277.0 C1236.4,281.0 1237.8,283.3 1240.6,288.9 C1243.4,294.5 1246.9,302.5 1250.1,310.4 C1253.3,318.4 1256.1,327.9 1259.7,336.6 C1263.3,345.3 1267.2,354.1 1271.6,362.8 C1276.0,371.6 1281.1,380.4 1285.9,389.1 C1290.7,397.9 1295.4,406.6 1300.2,415.3 C1305.0,424.0 1309.7,433.2 1314.5,441.5 C1319.3,449.8 1324.0,457.6 1328.8,465.3 C1333.6,473.0 1338.7,480.9 1343.1,487.8 C1347.5,494.7 1351.2,501.1 1355.4,506.5 C1359.6,511.9 1363.8,516.2 1368.0,520.4 C1372.2,524.6 1376.5,527.8 1380.7,531.8 C1384.9,535.8 1389.2,540.5 1393.4,544.5 C1397.6,548.5 1401.9,552.3 1406.1,555.9 C1410.3,559.5 1414.6,563.1 1418.8,566.1 C1423.0,569.1 1427.3,571.2 1431.5,573.7 C1435.7,576.2 1440.0,579.0 1444.2,581.3 C1448.4,583.6 1452.6,585.7 1456.8,587.6 C1461.0,589.5 1463.8,590.6 1469.5,592.7 C1475.2,594.8 1487.4,599.0 1491.0,600.3" fill="none" stroke="#ff00ff" stroke-width="3.80" stroke-linejoin="round" stroke-linecap="round"/>
<path d="M840.3,621.1 C840.7,620.9 841.7,620.3 842.6,619.7 C843.5,619.2 844.6,618.5 845.8,617.9 C847.0,617.2 848.3,616.6 849.9,616.0 C851.4,615.5 853.2,614.9 854.9,614.5 C856.6,614.1 858.2,613.9 859.9,613.6 C861.6,613.2 863.2,612.9 864.9,612.5 C866.6,612.2 868.2,611.8 869.9,611.3 C871.5,610.9 873.2,610.4 874.9,609.8 C876.6,609.3 878.5,608.5 880.2,607.8 C881.9,607.2 883.2,606.6 885.2,605.8 C887.1,605.0 889.4,604.1 891.8,603.0 C894.3,601.9 896.8,600.8 899.8,599.2 C902.8,597.7 906.4,595.8 909.7,593.8 C913.1,591.8 916.4,589.5 919.7,587.2 C923.0,584.9 926.3,582.6 929.6,580.1 C933.0,577.7 936.5,575.0 939.6,572.6 C942.8,570.2 945.2,568.8 948.5,565.8 C951.7,562.8 955.3,559.1 959.0,554.7 C962.7,550.4 966.4,545.5 970.8,539.6 C975.1,533.8 980.5,526.3 985.3,519.6 C990.1,513.0 994.7,506.3 999.7,499.6 C1004.6,493.0 1010.2,486.1 1015.0,479.6 C1019.7,473.2 1024.3,467.2 1028.4,460.7 C1032.4,454.2 1036.2,447.4 1039.2,440.8 C1042.2,434.1 1044.3,427.6 1046.5,420.8 C1048.7,414.0 1050.5,406.7 1052.2,399.9 C1053.9,393.0 1055.3,386.5 1056.7,379.9 C1058.1,373.2 1059.4,366.6 1060.5,359.9 C1061.7,353.2 1062.7,346.6 1063.8,339.9 C1064.8,333.2 1065.9,326.6 1067.0,319.9 C1068.1,313.2 1069.1,306.6 1070.3,299.9 C1071.5,293.2 1073.0,286.5 1074.4,279.9 C1075.9,273.2 1077.3,266.5 1079.0,259.8 C1080.7,253.2 1082.9,245.9 1084.8,239.8 C1086.7,233.7 1088.5,228.1 1090.3,223.1 C1092.1,218.1 1094.0,213.7 1095.5,209.8 C1097.1,205.9 1098.3,203.4 1099.7,199.8 C1101.2,196.1 1102.6,190.4 1104.0,188.0 C1105.4,185.6 1106.3,185.5 1108.0,185.5 C1109.7,185.5 1112.0,186.6 1114.0,188.0 C1116.0,189.4 1118.0,192.2 1120.0,194.0 C1122.0,195.8 1124.0,197.6 1126.0,198.5 C1128.0,199.4 1130.2,199.7 1132.0,199.5 C1133.8,199.3 1135.4,198.7 1137.0,197.5 C1138.6,196.3 1140.0,194.9 1141.5,192.5 C1143.0,190.1 1144.3,186.5 1145.8,183.0 C1147.3,179.5 1149.3,174.8 1150.7,171.5 C1152.1,168.2 1153.2,165.5 1154.4,163.0 C1155.6,160.5 1156.9,157.9 1158.1,156.5 C1159.3,155.1 1160.6,154.6 1161.8,154.8 C1163.0,155.0 1164.3,155.8 1165.5,157.5 C1166.7,159.2 1168.0,162.6 1169.2,165.0 C1170.4,167.4 1171.4,169.5 1172.9,172.0 C1174.4,174.5 1176.7,177.1 1178.4,180.0 C1180.2,182.9 1181.8,186.5 1183.4,189.2 C1185.0,191.9 1186.5,193.8 1188.1,196.1 C1189.6,198.4 1191.2,200.4 1192.7,203.1 C1194.2,205.8 1195.9,209.2 1197.3,212.3 C1198.7,215.4 1199.6,218.6 1201.2,221.9 C1202.8,225.2 1204.9,228.8 1206.7,232.3 C1208.5,235.8 1210.3,238.7 1212.3,242.7 C1214.3,246.7 1216.8,252.9 1218.5,256.5 C1220.2,260.1 1220.0,261.0 1222.5,264.3 C1225.0,267.6 1230.4,272.2 1233.4,276.2 C1236.4,280.2 1237.8,282.5 1240.6,288.1 C1243.4,293.7 1246.9,301.7 1250.1,309.6 C1253.3,317.6 1256.1,327.1 1259.7,335.8 C1263.3,344.5 1267.2,353.2 1271.6,362.0 C1276.0,370.8 1281.1,379.6 1285.9,388.3 C1290.7,397.1 1295.4,405.8 1300.2,414.5 C1305.0,423.2 1309.7,432.4 1314.5,440.7 C1319.3,449.0 1324.0,456.8 1328.8,464.5 C1333.6,472.2 1338.7,480.1 1343.1,487.0 C1347.5,493.9 1351.2,500.3 1355.4,505.7 C1359.6,511.1 1363.8,515.4 1368.0,519.6 C1372.2,523.8 1376.5,527.0 1380.7,531.0 C1384.9,535.0 1389.2,539.7 1393.4,543.7 C1397.6,547.7 1401.9,551.5 1406.1,555.1 C1410.3,558.7 1414.6,562.3 1418.8,565.3 C1423.0,568.3 1427.3,570.4 1431.5,572.9 C1435.7,575.4 1440.0,578.2 1444.2,580.5 C1448.4,582.8 1452.6,584.9 1456.8,586.8 C1461.0,588.7 1463.8,589.8 1469.5,591.9 C1475.2,594.0 1487.4,598.2 1491.0,599.5" fill="none" stroke="#ff00ff" stroke-width="5.60" stroke-linejoin="round" stroke-linecap="round"/>
</g>
<g clip-path="url(#clipc)">
<path d="M138.1,1207.6 C138.9,1206.9 141.4,1205.1 143.0,1203.5 C144.6,1201.9 145.6,1201.1 147.8,1198.1 C150.0,1195.1 153.9,1190.5 156.4,1185.7 C158.9,1181.0 161.0,1175.0 162.9,1169.6 C164.8,1164.2 166.2,1158.3 167.7,1153.4 C169.2,1148.5 170.0,1146.2 172.0,1140.0 C174.0,1133.8 177.3,1124.4 179.6,1116.3 C181.9,1108.2 183.7,1099.5 185.8,1091.5 C187.9,1083.5 189.9,1076.2 192.0,1068.6 C194.1,1061.0 196.1,1053.4 198.2,1045.8 C200.3,1038.2 202.1,1031.0 204.5,1023.0 C206.9,1015.0 209.7,1005.9 212.8,998.1 C215.9,990.3 219.7,980.8 223.1,976.3 C226.5,971.8 230.0,972.8 233.5,971.1 C237.0,969.4 240.4,966.8 243.9,965.9 C247.4,965.0 250.9,964.7 254.3,965.9 C257.8,967.1 261.2,970.1 264.6,973.2 C268.1,976.3 271.5,981.3 275.0,984.6 C278.5,987.9 281.6,989.6 285.4,992.9 C289.2,996.2 294.0,1000.0 297.8,1004.3 C301.6,1008.6 304.7,1013.6 308.2,1018.8 C311.7,1024.0 315.5,1031.1 318.6,1035.4 C321.7,1039.7 323.9,1043.0 327.0,1044.8 C330.1,1046.6 333.9,1047.4 337.3,1046.5 C340.8,1045.6 344.8,1042.4 347.7,1039.5 C350.6,1036.6 352.5,1032.5 354.6,1029.2 C356.7,1025.9 358.4,1023.4 360.3,1019.9 C362.2,1016.4 364.0,1012.8 366.1,1008.4 C368.2,1004.0 370.7,997.4 373.0,993.4 C375.3,989.4 377.2,986.7 379.9,984.2 C382.6,981.7 386.1,979.3 389.2,978.4 C392.3,977.5 395.3,978.2 398.4,979.0 C401.5,979.8 404.2,981.2 407.6,983.1 C411.1,985.0 415.2,988.4 419.1,990.5 C423.0,992.6 427.2,994.2 430.7,995.7 C434.2,997.2 436.4,997.9 439.9,999.2 C443.3,1000.6 447.6,1001.9 451.4,1003.8 C455.2,1005.7 459.0,1008.5 462.9,1010.7 C466.8,1012.9 471.3,1015.2 474.5,1017.0 C477.7,1018.8 478.9,1018.9 482.0,1021.5 C485.1,1024.1 489.3,1028.8 493.0,1032.5 C496.7,1036.2 500.3,1039.9 504.0,1043.6 C507.7,1047.2 511.3,1050.9 515.0,1054.5 C518.7,1058.1 522.3,1061.6 526.0,1065.1 C529.7,1068.6 533.3,1071.9 537.0,1075.3 C540.7,1078.6 544.3,1081.9 548.0,1085.2 C551.7,1088.5 555.4,1091.9 559.1,1095.2 C562.8,1098.5 566.5,1101.9 570.2,1105.1 C573.9,1108.4 577.6,1111.6 581.3,1114.7 C585.1,1117.8 588.8,1120.9 592.5,1123.8 C596.2,1126.7 599.9,1129.5 603.6,1132.2 C607.3,1134.9 610.9,1137.5 614.6,1140.0 C618.3,1142.5 622.0,1144.8 625.7,1147.1 C629.4,1149.4 633.0,1151.6 636.7,1153.7 C640.4,1155.8 644.1,1157.8 647.8,1159.7 C651.5,1161.7 655.1,1163.4 658.8,1165.2 C662.5,1166.9 666.2,1168.6 669.9,1170.2 C673.5,1171.8 677.2,1173.3 680.9,1174.8 C684.6,1176.2 688.3,1177.7 691.9,1179.0 C695.6,1180.3 699.3,1181.5 703.0,1182.6 C706.7,1183.7 710.3,1184.7 714.0,1185.7 C717.7,1186.6 721.4,1187.5 725.1,1188.3 C728.8,1189.1 732.4,1189.8 736.1,1190.5 C739.8,1191.2 743.4,1191.9 747.2,1192.5 C751.0,1193.1 754.8,1193.7 759.0,1194.3 C763.1,1194.9 767.6,1195.4 772.2,1196.0 C776.9,1196.7 784.5,1197.6 787.0,1197.9" fill="none" stroke="#ff0000" stroke-width="1.30" stroke-linejoin="round" stroke-linecap="round"/>
<path d="M139.5,1207.6 C140.4,1206.8 143.1,1204.3 145.0,1202.5 C146.9,1200.7 148.6,1198.8 151.1,1196.5 C153.6,1194.2 157.3,1192.6 160.2,1188.4 C163.1,1184.2 165.9,1175.7 168.3,1171.2 C170.7,1166.7 172.7,1164.5 174.7,1161.5 C176.7,1158.5 178.5,1157.0 180.1,1153.4 C181.7,1149.8 182.0,1146.7 184.4,1140.0 C186.8,1133.3 190.8,1121.3 194.6,1113.0 C198.3,1104.7 203.7,1097.2 206.9,1090.0 C210.1,1082.8 210.6,1076.0 214.0,1070.0 C217.4,1064.0 223.0,1058.0 227.3,1054.1 C231.6,1050.2 234.9,1048.3 239.7,1046.8 C244.5,1045.2 251.1,1044.3 256.3,1044.8 C261.5,1045.3 266.0,1048.6 270.9,1050.0 C275.8,1051.4 280.6,1051.7 285.4,1053.1 C290.2,1054.5 295.4,1055.9 299.9,1058.3 C304.4,1060.7 308.1,1065.2 312.3,1067.6 C316.5,1070.0 320.6,1072.3 324.8,1072.8 C329.0,1073.3 333.9,1072.2 337.3,1070.7 C340.7,1069.2 342.9,1066.4 345.4,1063.7 C347.9,1061.0 350.0,1058.0 352.3,1054.5 C354.6,1051.0 357.1,1047.2 359.2,1043.0 C361.3,1038.8 363.1,1034.2 365.0,1029.2 C366.9,1024.2 368.6,1018.0 370.7,1013.0 C372.8,1008.0 374.9,1003.2 377.6,999.2 C380.3,995.2 383.4,991.2 386.9,988.8 C390.4,986.4 394.6,985.2 398.4,984.8 C402.2,984.4 406.1,985.4 409.9,986.5 C413.7,987.6 417.9,990.1 421.4,991.7 C424.9,993.3 427.6,994.7 430.7,996.0 C433.8,997.3 436.4,998.2 439.9,999.5 C443.3,1000.8 447.6,1002.1 451.4,1004.0 C455.2,1005.9 459.0,1008.8 462.9,1011.0 C466.8,1013.2 471.3,1015.6 474.5,1017.5 C477.7,1019.4 478.9,1019.8 482.0,1022.5 C485.1,1025.2 489.3,1029.8 493.0,1033.5 C496.7,1037.2 500.3,1040.9 504.0,1044.6 C507.7,1048.2 511.3,1051.9 515.0,1055.5 C518.7,1059.1 522.3,1062.6 526.0,1066.1 C529.7,1069.6 533.3,1072.9 537.0,1076.3 C540.7,1079.6 544.3,1082.9 548.0,1086.2 C551.7,1089.5 555.4,1092.9 559.1,1096.2 C562.8,1099.5 566.5,1102.9 570.2,1106.1 C573.9,1109.4 577.6,1112.6 581.3,1115.7 C585.1,1118.8 588.8,1121.9 592.5,1124.8 C596.2,1127.7 599.9,1130.5 603.6,1133.2 C607.3,1135.9 610.9,1138.5 614.6,1141.0 C618.3,1143.5 622.0,1145.8 625.7,1148.1 C629.4,1150.4 633.0,1152.6 636.7,1154.7 C640.4,1156.8 644.1,1158.8 647.8,1160.7 C651.5,1162.7 655.1,1164.4 658.8,1166.2 C662.5,1167.9 666.2,1169.6 669.9,1171.2 C673.5,1172.8 677.2,1174.3 680.9,1175.8 C684.6,1177.2 688.3,1178.7 691.9,1180.0 C695.6,1181.3 699.3,1182.5 703.0,1183.6 C706.7,1184.7 710.3,1185.7 714.0,1186.7 C717.7,1187.6 721.4,1188.5 725.1,1189.3 C728.8,1190.1 732.4,1190.8 736.1,1191.5 C739.8,1192.2 743.4,1192.9 747.2,1193.5 C751.0,1194.1 754.8,1194.7 759.0,1195.3 C763.1,1195.9 767.6,1196.4 772.2,1197.0 C776.9,1197.7 784.5,1198.6 787.0,1198.9" fill="none" stroke="#ff0000" stroke-width="2.40" stroke-linejoin="round" stroke-linecap="round"/>
<path d="M140.5,1207.3 C141.4,1206.7 144.1,1204.9 146.0,1203.5 C147.9,1202.1 149.3,1201.2 152.0,1199.0 C154.7,1196.8 159.0,1193.6 162.0,1190.0 C165.0,1186.4 167.7,1181.2 170.0,1177.5 C172.3,1173.8 173.6,1171.1 176.0,1167.5 C178.4,1163.9 181.8,1160.2 184.5,1156.0 C187.2,1151.8 190.1,1146.5 192.5,1142.0 C194.9,1137.5 196.8,1133.8 199.0,1129.0 C201.2,1124.2 202.8,1118.8 205.4,1113.0 C208.0,1107.2 211.7,1098.6 214.6,1094.0 C217.5,1089.4 220.0,1087.8 223.1,1085.4 C226.2,1083.0 229.2,1081.4 233.0,1079.5 C236.8,1077.6 241.4,1075.1 246.0,1073.8 C250.6,1072.5 255.3,1071.7 260.5,1071.7 C265.7,1071.7 271.6,1073.3 277.1,1073.8 C282.6,1074.3 288.5,1074.0 293.7,1074.9 C298.9,1075.8 303.4,1077.3 308.2,1079.0 C313.0,1080.7 319.4,1084.4 322.7,1085.2 C326.0,1086.0 325.7,1084.6 328.1,1083.9 C330.5,1083.2 334.4,1082.6 337.3,1081.0 C340.2,1079.4 342.9,1077.0 345.4,1074.1 C347.9,1071.2 350.0,1068.1 352.3,1063.7 C354.6,1059.3 356.9,1053.3 359.2,1047.6 C361.5,1041.8 363.8,1035.0 366.1,1029.2 C368.4,1023.4 370.5,1017.8 373.0,1013.0 C375.5,1008.2 378.0,1003.6 381.1,1000.3 C384.2,997.0 387.9,994.9 391.5,993.4 C395.1,991.9 399.2,991.1 403.0,991.1 C406.8,991.1 409.9,992.3 414.5,993.4 C419.1,994.5 426.5,996.2 430.7,997.5 C434.9,998.8 436.4,999.7 439.9,1001.0 C443.3,1002.3 447.6,1003.7 451.4,1005.5 C455.2,1007.3 459.0,1009.8 462.9,1012.0 C466.8,1014.2 471.3,1017.0 474.5,1019.0 C477.7,1021.0 478.9,1021.2 482.0,1023.8 C485.1,1026.4 489.3,1031.1 493.0,1034.8 C496.7,1038.5 500.3,1042.2 504.0,1045.9 C507.7,1049.5 511.3,1053.2 515.0,1056.8 C518.7,1060.4 522.3,1063.9 526.0,1067.4 C529.7,1070.9 533.3,1074.2 537.0,1077.6 C540.7,1080.9 544.3,1084.2 548.0,1087.5 C551.7,1090.8 555.4,1094.2 559.1,1097.5 C562.8,1100.8 566.5,1104.2 570.2,1107.4 C573.9,1110.7 577.6,1113.9 581.3,1117.0 C585.1,1120.1 588.8,1123.2 592.5,1126.1 C596.2,1129.0 599.9,1131.8 603.6,1134.5 C607.3,1137.2 610.9,1139.8 614.6,1142.3 C618.3,1144.8 622.0,1147.1 625.7,1149.4 C629.4,1151.7 633.0,1153.9 636.7,1156.0 C640.4,1158.1 644.1,1160.1 647.8,1162.0 C651.5,1164.0 655.1,1165.7 658.8,1167.5 C662.5,1169.2 666.2,1170.9 669.9,1172.5 C673.5,1174.1 677.2,1175.6 680.9,1177.1 C684.6,1178.5 688.3,1180.0 691.9,1181.3 C695.6,1182.6 699.3,1183.8 703.0,1184.9 C706.7,1186.0 710.3,1187.0 714.0,1188.0 C717.7,1188.9 721.4,1189.8 725.1,1190.6 C728.8,1191.4 732.4,1192.1 736.1,1192.8 C739.8,1193.5 743.4,1194.2 747.2,1194.8 C751.0,1195.4 754.8,1196.0 759.0,1196.6 C763.1,1197.2 767.6,1197.7 772.2,1198.3 C776.9,1199.0 784.5,1199.9 787.0,1200.2" fill="none" stroke="#ff0000" stroke-width="3.30" stroke-linejoin="round" stroke-linecap="round"/>
<path d="M141.5,1208.0 C142.6,1207.5 145.3,1206.8 148.0,1205.3 C150.7,1203.8 154.1,1202.3 157.5,1199.3 C160.9,1196.2 165.1,1190.5 168.3,1187.0 C171.6,1183.5 174.6,1180.8 177.0,1178.0 C179.4,1175.2 181.0,1173.0 183.0,1170.0 C185.0,1167.0 187.2,1163.3 189.2,1160.0 C191.2,1156.7 192.7,1153.8 195.0,1150.0 C197.3,1146.2 200.0,1143.0 203.0,1137.0 C206.0,1131.0 209.0,1120.2 213.0,1113.8 C217.0,1107.4 222.0,1102.1 226.9,1098.5 C231.8,1094.9 236.7,1094.2 242.3,1092.3 C247.9,1090.4 254.7,1088.0 260.5,1087.3 C266.3,1086.6 270.9,1088.5 277.1,1088.3 C283.3,1088.1 291.9,1085.9 297.8,1086.3 C303.7,1086.7 308.2,1089.2 312.3,1090.4 C316.4,1091.6 320.1,1092.8 322.7,1093.5 C325.3,1094.2 325.7,1094.6 328.1,1094.3 C330.5,1094.0 334.4,1093.2 337.3,1091.4 C340.2,1089.6 342.9,1086.4 345.4,1083.3 C347.9,1080.2 349.8,1077.6 352.3,1073.0 C354.8,1068.4 357.6,1062.0 360.3,1055.7 C363.0,1049.4 365.7,1040.9 368.4,1034.9 C371.1,1028.9 373.8,1024.3 376.5,1019.9 C379.2,1015.5 381.7,1011.5 384.6,1008.4 C387.5,1005.3 390.4,1003.0 393.8,1001.5 C397.2,1000.0 401.5,999.2 405.3,999.2 C409.1,999.2 413.0,1000.5 416.8,1001.5 C420.6,1002.5 424.5,1004.2 428.4,1005.5 C432.2,1006.8 436.1,1007.8 439.9,1009.0 C443.7,1010.2 447.6,1011.4 451.4,1013.0 C455.2,1014.6 459.0,1016.7 462.9,1018.8 C466.8,1020.9 471.3,1023.6 474.5,1025.5 C477.7,1027.4 478.9,1027.4 482.0,1030.0 C485.1,1032.6 489.3,1037.5 493.0,1041.2 C496.7,1044.9 500.3,1048.6 504.0,1052.2 C507.7,1055.8 511.3,1059.4 515.0,1062.8 C518.7,1066.3 522.3,1069.6 526.0,1072.9 C529.7,1076.2 533.3,1079.3 537.0,1082.5 C540.7,1085.7 544.3,1088.8 548.0,1091.9 C551.7,1095.1 555.4,1098.3 559.1,1101.5 C562.8,1104.7 566.5,1107.8 570.2,1110.9 C573.9,1114.0 577.6,1117.0 581.3,1119.9 C585.1,1122.8 588.8,1125.6 592.5,1128.3 C596.2,1131.1 599.9,1133.7 603.6,1136.2 C607.3,1138.7 610.9,1141.0 614.6,1143.3 C618.3,1145.6 622.0,1147.9 625.7,1150.0 C629.4,1152.2 633.0,1154.2 636.7,1156.3 C640.4,1158.3 644.1,1160.3 647.8,1162.2 C651.5,1164.1 655.1,1165.9 658.8,1167.6 C662.5,1169.3 666.2,1171.0 669.9,1172.6 C673.5,1174.2 677.2,1175.7 680.9,1177.2 C684.6,1178.6 688.3,1180.1 691.9,1181.3 C695.6,1182.6 699.3,1183.8 703.0,1184.9 C706.7,1186.0 710.3,1187.1 714.0,1188.0 C717.7,1188.9 721.4,1189.8 725.1,1190.6 C728.8,1191.4 732.4,1192.1 736.1,1192.8 C739.8,1193.5 743.4,1194.1 747.2,1194.7 C751.0,1195.3 754.8,1195.9 759.0,1196.5 C763.1,1197.0 767.6,1197.6 772.2,1198.2 C776.9,1198.8 784.5,1199.7 787.0,1200.0" fill="none" stroke="#ff0000" stroke-width="4.80" stroke-linejoin="round" stroke-linecap="round"/>
</g>
<g clip-path="url(#clipd)">
<path d="M842.6,1208.2 C844.0,1206.3 847.7,1201.2 850.7,1196.9 C853.7,1192.6 857.2,1187.5 860.4,1182.4 C863.6,1177.3 867.1,1170.9 870.1,1166.3 C873.1,1161.7 875.7,1158.0 878.1,1155.0 C880.5,1152.0 882.7,1151.7 884.6,1148.5 C886.5,1145.3 887.5,1140.7 889.4,1135.6 C891.3,1130.5 893.5,1124.0 895.9,1117.8 C898.3,1111.6 901.3,1104.2 904.0,1098.5 C906.7,1092.8 909.0,1088.5 912.0,1083.9 C915.0,1079.3 918.5,1074.5 921.7,1071.0 C924.9,1067.5 927.6,1065.5 931.4,1063.0 C935.2,1060.5 940.0,1057.5 944.3,1055.7 C948.6,1054.0 952.9,1052.9 957.2,1052.5 C961.5,1052.1 965.2,1052.9 970.1,1053.3 C975.0,1053.7 980.9,1055.2 986.3,1054.9 C991.7,1054.6 997.6,1051.3 1002.4,1051.7 C1007.2,1052.1 1010.4,1055.2 1015.3,1057.3 C1020.1,1059.4 1027.3,1063.6 1031.5,1064.6 C1035.7,1065.5 1037.6,1064.5 1040.7,1063.0 C1043.8,1061.5 1047.2,1058.6 1050.1,1055.6 C1053.0,1052.6 1055.9,1048.0 1058.1,1044.9 C1060.3,1041.8 1061.7,1040.0 1063.5,1036.9 C1065.3,1033.8 1066.8,1029.9 1068.8,1026.1 C1070.8,1022.3 1073.0,1017.8 1075.5,1014.1 C1078.0,1010.4 1080.4,1006.3 1083.5,1004.1 C1086.6,1001.9 1091.0,1000.9 1094.3,1001.0 C1097.6,1001.1 1100.5,1002.5 1103.6,1004.7 C1106.7,1006.9 1109.7,1010.8 1113.0,1014.1 C1116.3,1017.5 1119.7,1020.8 1123.7,1024.8 C1127.7,1028.8 1132.6,1034.4 1137.1,1038.2 C1141.6,1042.0 1146.0,1044.2 1150.5,1047.6 C1155.0,1050.9 1159.9,1055.0 1163.9,1058.3 C1167.9,1061.6 1170.6,1064.3 1174.6,1067.6 C1178.6,1070.9 1183.1,1074.1 1188.0,1078.0 C1192.9,1081.9 1198.7,1086.7 1204.0,1091.0 C1209.3,1095.3 1214.1,1099.8 1220.0,1104.0 C1225.9,1108.2 1232.9,1111.8 1239.4,1116.0 C1245.9,1120.2 1252.5,1124.5 1259.0,1129.0 C1265.5,1133.5 1272.1,1138.9 1278.7,1143.0 C1285.3,1147.1 1291.8,1150.2 1298.4,1153.8 C1305.0,1157.4 1311.5,1161.8 1318.1,1164.6 C1324.6,1167.4 1331.2,1168.7 1337.7,1170.5 C1344.2,1172.3 1350.8,1173.6 1357.4,1175.4 C1364.0,1177.2 1370.5,1179.3 1377.1,1181.3 C1383.7,1183.3 1390.2,1185.4 1396.8,1187.2 C1403.4,1189.0 1410.0,1190.7 1416.5,1192.2 C1423.0,1193.7 1429.5,1195.0 1436.1,1196.1 C1442.6,1197.2 1446.6,1198.0 1455.8,1199.0 C1465.0,1200.0 1485.3,1201.5 1491.2,1202.0" fill="none" stroke="#ff8000" stroke-width="1.20" stroke-linejoin="round" stroke-linecap="round"/>
<path d="M844.2,1208.0 C846.4,1205.9 852.2,1200.1 857.1,1195.3 C862.0,1190.5 868.4,1183.8 873.3,1179.2 C878.1,1174.6 882.4,1172.2 886.2,1167.9 C890.0,1163.6 892.7,1158.5 895.9,1153.4 C899.1,1148.3 902.4,1142.1 905.6,1137.2 C908.8,1132.3 912.1,1127.8 915.3,1124.3 C918.5,1120.8 921.1,1118.6 924.9,1116.2 C928.7,1113.8 933.0,1111.5 937.9,1109.8 C942.8,1108.0 948.6,1106.5 954.0,1105.7 C959.4,1104.9 964.7,1105.3 970.1,1104.9 C975.5,1104.5 980.4,1104.1 986.3,1103.3 C992.2,1102.5 1000.2,1100.2 1005.6,1100.1 C1011.0,1100.0 1014.3,1101.8 1018.6,1102.5 C1022.9,1103.2 1027.8,1104.3 1031.5,1104.1 C1035.2,1103.9 1037.4,1103.2 1040.7,1101.1 C1044.0,1099.0 1048.3,1095.3 1051.4,1091.7 C1054.5,1088.1 1056.8,1084.2 1059.5,1079.7 C1062.2,1075.2 1064.8,1069.7 1067.5,1065.0 C1070.2,1060.3 1072.8,1055.4 1075.5,1051.6 C1078.2,1047.8 1080.8,1044.7 1083.5,1042.2 C1086.2,1039.8 1088.9,1038.0 1091.6,1036.9 C1094.3,1035.8 1096.5,1035.3 1099.6,1035.5 C1102.7,1035.7 1106.3,1036.5 1110.3,1038.2 C1114.3,1039.9 1119.2,1043.5 1123.7,1045.6 C1128.2,1047.7 1132.6,1049.0 1137.1,1050.9 C1141.6,1052.8 1146.0,1054.9 1150.5,1056.9 C1155.0,1058.9 1159.4,1060.3 1163.9,1063.0 C1168.4,1065.7 1173.0,1069.8 1177.3,1073.0 C1181.6,1076.2 1185.5,1078.7 1190.0,1082.0 C1194.5,1085.3 1199.0,1089.2 1204.0,1093.0 C1209.0,1096.8 1214.1,1101.1 1220.0,1105.0 C1225.9,1108.9 1232.9,1112.4 1239.4,1116.5 C1245.9,1120.6 1252.5,1125.6 1259.0,1129.5 C1265.5,1133.4 1272.1,1136.8 1278.7,1140.0 C1285.3,1143.2 1291.8,1146.2 1298.4,1149.0 C1305.0,1151.8 1311.5,1154.7 1318.1,1157.0 C1324.6,1159.3 1331.2,1161.5 1337.7,1163.0 C1344.2,1164.5 1351.5,1165.0 1357.4,1166.0 C1363.3,1167.0 1368.3,1167.7 1373.2,1169.0 C1378.1,1170.3 1381.3,1171.8 1386.9,1174.0 C1392.5,1176.2 1400.0,1179.7 1406.6,1182.0 C1413.2,1184.3 1419.7,1186.2 1426.3,1188.0 C1432.9,1189.8 1439.5,1191.6 1446.0,1193.0 C1452.5,1194.4 1458.1,1195.2 1465.6,1196.5 C1473.1,1197.8 1486.9,1199.8 1491.2,1200.5" fill="none" stroke="#ff8000" stroke-width="2.30" stroke-linejoin="round" stroke-linecap="round"/>
<path d="M845.8,1207.0 C848.2,1204.8 855.3,1198.6 860.4,1193.7 C865.5,1188.8 871.7,1182.4 876.5,1177.6 C881.3,1172.8 885.1,1169.4 889.4,1164.6 C893.7,1159.8 898.3,1153.3 902.3,1148.5 C906.3,1143.7 909.8,1139.1 913.6,1135.6 C917.4,1132.1 920.9,1129.8 924.9,1127.5 C928.9,1125.2 933.0,1123.4 937.9,1121.9 C942.8,1120.4 948.6,1119.1 954.0,1118.6 C959.4,1118.0 964.7,1118.9 970.1,1118.6 C975.5,1118.3 980.9,1117.8 986.3,1117.0 C991.7,1116.2 997.0,1113.9 1002.4,1113.8 C1007.8,1113.7 1013.8,1115.7 1018.6,1116.2 C1023.5,1116.7 1027.8,1117.4 1031.5,1117.0 C1035.2,1116.6 1037.4,1115.8 1040.7,1113.8 C1044.0,1111.8 1047.8,1108.8 1051.4,1105.1 C1055.0,1101.4 1059.0,1096.4 1062.1,1091.7 C1065.2,1087.0 1067.3,1081.9 1070.2,1077.0 C1073.1,1072.1 1076.4,1066.1 1079.5,1062.3 C1082.6,1058.5 1085.1,1056.1 1088.9,1054.3 C1092.7,1052.5 1097.8,1051.4 1102.3,1051.6 C1106.8,1051.8 1111.2,1054.0 1115.7,1055.6 C1120.2,1057.2 1124.6,1059.5 1129.1,1061.0 C1133.5,1062.5 1138.0,1063.0 1142.4,1064.3 C1146.9,1065.6 1151.3,1067.3 1155.8,1069.0 C1160.3,1070.7 1164.7,1072.3 1169.2,1074.3 C1173.7,1076.3 1177.5,1077.8 1182.6,1081.0 C1187.7,1084.2 1193.8,1089.2 1200.0,1093.5 C1206.2,1097.8 1213.4,1102.5 1220.0,1106.5 C1226.6,1110.5 1232.9,1113.6 1239.4,1117.5 C1245.9,1121.4 1252.5,1126.1 1259.0,1130.0 C1265.5,1133.9 1272.1,1137.7 1278.7,1141.0 C1285.3,1144.3 1291.8,1147.2 1298.4,1150.0 C1305.0,1152.8 1311.5,1155.7 1318.1,1158.0 C1324.6,1160.3 1331.2,1162.3 1337.7,1163.8 C1344.2,1165.3 1351.5,1165.8 1357.4,1166.8 C1363.3,1167.8 1368.3,1168.4 1373.2,1169.8 C1378.1,1171.2 1381.3,1172.9 1386.9,1175.0 C1392.5,1177.1 1400.0,1180.3 1406.6,1182.5 C1413.2,1184.7 1419.7,1186.3 1426.3,1188.0 C1432.9,1189.7 1439.5,1191.2 1446.0,1192.5 C1452.5,1193.8 1458.1,1194.4 1465.6,1195.5 C1473.1,1196.6 1486.9,1198.4 1491.2,1199.0" fill="none" stroke="#ff8000" stroke-width="3.30" stroke-linejoin="round" stroke-linecap="round"/>
<path d="M847.5,1206.5 C849.9,1204.4 856.9,1198.0 862.0,1193.7 C867.1,1189.4 873.3,1185.1 878.1,1180.8 C882.9,1176.5 886.7,1172.5 891.0,1167.9 C895.3,1163.3 899.7,1157.7 904.0,1153.4 C908.3,1149.1 912.6,1145.2 916.9,1142.0 C921.2,1138.8 925.0,1136.2 929.8,1134.0 C934.6,1131.8 940.5,1130.2 945.9,1129.1 C951.3,1128.0 956.7,1127.8 962.1,1127.5 C967.5,1127.2 972.8,1127.9 978.2,1127.5 C983.6,1127.1 989.8,1125.8 994.4,1125.1 C999.0,1124.4 1001.6,1123.5 1005.6,1123.5 C1009.6,1123.5 1014.3,1124.7 1018.6,1125.1 C1022.9,1125.5 1027.4,1126.3 1031.5,1125.9 C1035.6,1125.5 1039.6,1124.6 1043.4,1122.5 C1047.2,1120.4 1050.5,1117.0 1054.1,1113.2 C1057.7,1109.4 1061.4,1104.7 1064.8,1099.8 C1068.2,1094.9 1071.1,1088.2 1074.2,1083.7 C1077.3,1079.2 1080.2,1076.1 1083.5,1073.0 C1086.8,1069.9 1090.3,1066.6 1094.3,1065.0 C1098.3,1063.4 1103.1,1062.9 1107.6,1063.6 C1112.0,1064.3 1116.5,1067.7 1121.0,1069.0 C1125.5,1070.3 1129.9,1070.9 1134.4,1071.7 C1138.9,1072.5 1143.3,1072.6 1147.8,1073.7 C1152.3,1074.8 1156.7,1076.5 1161.2,1078.4 C1165.7,1080.3 1170.1,1082.8 1174.6,1085.0 C1179.1,1087.2 1183.1,1089.0 1188.0,1091.7 C1192.9,1094.4 1198.7,1098.3 1204.0,1101.1 C1209.3,1103.9 1214.1,1105.5 1220.0,1108.5 C1225.9,1111.5 1232.9,1115.2 1239.4,1119.0 C1245.9,1122.8 1252.5,1127.2 1259.0,1131.0 C1265.5,1134.8 1272.1,1138.7 1278.7,1142.0 C1285.3,1145.3 1291.8,1148.2 1298.4,1151.0 C1305.0,1153.8 1311.5,1156.3 1318.1,1158.5 C1324.6,1160.7 1331.2,1162.8 1337.7,1164.2 C1344.2,1165.7 1351.5,1166.2 1357.4,1167.2 C1363.3,1168.2 1368.3,1168.8 1373.2,1170.2 C1378.1,1171.6 1381.3,1173.4 1386.9,1175.5 C1392.5,1177.6 1400.0,1180.8 1406.6,1183.0 C1413.2,1185.2 1419.7,1186.9 1426.3,1188.5 C1432.9,1190.1 1439.5,1191.6 1446.0,1192.8 C1452.5,1194.0 1458.1,1194.7 1465.6,1195.8 C1473.1,1196.9 1486.9,1198.9 1491.2,1199.5" fill="none" stroke="#ff8000" stroke-width="4.60" stroke-linejoin="round" stroke-linecap="round"/>
</g>
<path d="M311.5,317.7 V357.0" stroke="#000" stroke-width="2.0" stroke-linecap="round"/><path d="M311.5,369.6 L307.5,356.3 L315.5,356.3 Z" fill="#000" stroke="#000" stroke-width="0.8" stroke-linejoin="round"/>
<path d="M440.4,172.1 V140.5" stroke="#000" stroke-width="2.0" stroke-linecap="round"/><path d="M440.4,127.9 L436.4,141.2 L444.4,141.2 Z" fill="#000" stroke="#000" stroke-width="0.8" stroke-linejoin="round"/>
<path d="M455.9,132.9 V170.6" stroke="#000" stroke-width="2.0" stroke-linecap="round"/><path d="M455.9,183.2 L451.9,169.9 L459.9,169.9 Z" fill="#000" stroke="#000" stroke-width="0.8" stroke-linejoin="round"/>
<path d="M1020.6,335.1 V374.3" stroke="#000" stroke-width="2.0" stroke-linecap="round"/><path d="M1020.6,386.9 L1016.6,373.6 L1024.6,373.6 Z" fill="#000" stroke="#000" stroke-width="0.8" stroke-linejoin="round"/>
<path d="M1234.6,387.1 V354.8" stroke="#000" stroke-width="2.0" stroke-linecap="round"/><path d="M1234.6,342.2 L1230.6,355.5 L1238.6,355.5 Z" fill="#000" stroke="#000" stroke-width="0.8" stroke-linejoin="round"/>
<path d="M248.7,984.6 V1024.5" stroke="#000" stroke-width="2.0" stroke-linecap="round"/><path d="M248.7,1037.1 L244.7,1023.8 L252.7,1023.8 Z" fill="#000" stroke="#000" stroke-width="0.8" stroke-linejoin="round"/>
<path d="M965.0,1053.3 V1092.7" stroke="#000" stroke-width="2.0" stroke-linecap="round"/><path d="M965.0,1105.3 L961.0,1092.0 L969.0,1092.0 Z" fill="#000" stroke="#000" stroke-width="0.8" stroke-linejoin="round"/>
<g font-family='"Liberation Sans", sans-serif' fill="#000" style="filter:grayscale(1)">
<text x="496.5" y="28.7" font-size="33.6" text-anchor="middle">Photon Energy (eV)</text>
<text x="1202.2" y="28.7" font-size="33.6" text-anchor="middle">Photon Energy (eV)</text>
<text x="487.0" y="1290.1" font-size="33.4" text-anchor="middle">Wavelengh (nm)</text>
<text x="1189.3" y="1290.1" font-size="33.4" text-anchor="middle">Wavelengh (nm)</text>
<text x="150.4" y="74.3" font-size="25.2" text-anchor="middle">3.5</text>
<text x="252.2" y="74.3" font-size="25.2" text-anchor="middle">3</text>
<text x="396.6" y="74.3" font-size="25.2" text-anchor="middle">2.5</text>
<text x="606.1" y="74.3" font-size="25.2" text-anchor="middle">2</text>
<text x="855.3" y="74.3" font-size="25.2" text-anchor="middle">3.5</text>
<text x="957.6" y="74.3" font-size="25.2" text-anchor="middle">3</text>
<text x="1101.1" y="74.3" font-size="25.2" text-anchor="middle">2.5</text>
<text x="1311.3" y="74.3" font-size="25.2" text-anchor="middle">2</text>
<text x="122.8" y="187.8" font-size="25.2" text-anchor="end">30000</text>
<text x="122.8" y="334.9" font-size="25.2" text-anchor="end">20000</text>
<text x="122.8" y="482.2" font-size="25.2" text-anchor="end">&#x2007;0000</text>
<text x="122.8" y="629.6" font-size="25.2" text-anchor="end">0</text>
<text x="122.8" y="772.0" font-size="25.2" text-anchor="end">30000</text>
<text x="122.8" y="920.3" font-size="25.2" text-anchor="end">20000</text>
<text x="122.8" y="1067.7" font-size="25.2" text-anchor="end">&#x2007;0000</text>
<text x="122.8" y="1217.5" font-size="25.2" text-anchor="end">0</text>
<text x="147.1" y="1237.4" font-size="25.2" text-anchor="middle">350</text>
<text x="232.7" y="1237.4" font-size="25.2" text-anchor="middle">400</text>
<text x="318.2" y="1237.4" font-size="25.2" text-anchor="middle">450</text>
<text x="403.6" y="1237.4" font-size="25.2" text-anchor="middle">500</text>
<text x="489.5" y="1237.4" font-size="25.2" text-anchor="middle">550</text>
<text x="574.3" y="1237.4" font-size="25.2" text-anchor="middle">600</text>
<text x="660.8" y="1237.4" font-size="25.2" text-anchor="middle">650</text>
<text x="744.0" y="1237.4" font-size="25.2" text-anchor="middle">700</text>
<text x="851.1" y="1239.4" font-size="25.2" text-anchor="middle">350</text>
<text x="936.3" y="1239.4" font-size="25.2" text-anchor="middle">400</text>
<text x="1021.7" y="1239.4" font-size="25.2" text-anchor="middle">450</text>
<text x="1107.5" y="1239.4" font-size="25.2" text-anchor="middle">500</text>
<text x="1193.2" y="1239.4" font-size="25.2" text-anchor="middle">550</text>
<text x="1278.4" y="1239.4" font-size="25.2" text-anchor="middle">600</text>
<text x="1364.2" y="1239.4" font-size="25.2" text-anchor="middle">650</text>
<text x="1448.9" y="1239.4" font-size="25.2" text-anchor="middle">700</text>
<text x="145.0" y="151.0" font-size="60.0" text-anchor="start">(a)</text>
<text x="847.0" y="147.0" font-size="60.0" text-anchor="start">(b)</text>
<text x="146.5" y="734.3" font-size="60.0" text-anchor="start">(c)</text>
<text x="857.0" y="739.3" font-size="60.0" text-anchor="start">(d)</text>
<text x="773.5" y="130.1" font-size="29.0" text-anchor="end">PL300K</text>
<text x="771.0" y="163.9" font-size="29.0" text-anchor="end">AIR</text>
<text x="1472.0" y="130.1" font-size="29.0" text-anchor="end">PL&#x2007;0K</text>
<text x="1471.0" y="163.9" font-size="29.0" text-anchor="end">VACUUM</text>
<text x="771.8" y="715.1" font-size="29.0" text-anchor="end">PL300K</text>
<text x="769.0" y="749.3" font-size="29.0" text-anchor="end">AIR</text>
<text x="1472.2" y="718.2" font-size="29.0" text-anchor="end">PL&#x2007;0K</text>
<text x="1471.2" y="751.9" font-size="29.0" text-anchor="end">VACUUM</text>
<text x="156.5" y="221.4" font-size="29.0" text-anchor="start">monoclinic</text>
<text x="859.6" y="220.9" font-size="29.0" text-anchor="start">monoclinic</text>
<text x="162.0" y="808.0" font-size="29.0" text-anchor="start">cubic</text>
<text x="871.7" y="810.5" font-size="29.0" text-anchor="start">cubic</text>
<text x="718.8" y="393.0" font-size="25.2" text-anchor="start">0s</text>
<text x="718.8" y="421.2" font-size="25.2" text-anchor="start">60s</text>
<text x="718.8" y="449.4" font-size="25.2" text-anchor="start">&#x2007;20s</text>
<text x="718.8" y="477.6" font-size="25.2" text-anchor="start">&#x2007;80s</text>
<text x="1425.6" y="392.6" font-size="25.2" text-anchor="start">0s</text>
<text x="1425.6" y="420.8" font-size="25.2" text-anchor="start">60s</text>
<text x="1425.6" y="449.0" font-size="25.2" text-anchor="start">&#x2007;20s</text>
<text x="1425.6" y="477.2" font-size="25.2" text-anchor="start">&#x2007;80s</text>
<text x="717.0" y="978.6" font-size="25.2" text-anchor="start">0s</text>
<text x="717.0" y="1006.3" font-size="25.2" text-anchor="start">60s</text>
<text x="717.0" y="1034.9" font-size="25.2" text-anchor="start">&#x2007;20s</text>
<text x="717.0" y="1062.7" font-size="25.2" text-anchor="start">&#x2007;80s</text>
<text x="1427.0" y="987.5" font-size="25.2" text-anchor="start">0s</text>
<text x="1427.0" y="1013.1" font-size="25.2" text-anchor="start">60s</text>
<text x="1427.0" y="1037.1" font-size="25.2" text-anchor="start">&#x2007;20s</text>
<text x="1427.0" y="1061.4" font-size="25.2" text-anchor="start">&#x2007;80s</text>
<text x="159.5" y="262.3" font-size="29">HfO<tspan font-size="21" dy="8">2</tspan></text>
<text x="862.3" y="261.5" font-size="29">HfO<tspan font-size="21" dy="8">2</tspan></text>
<text x="166.0" y="846.9" font-size="29">HfO<tspan font-size="21" dy="8">2</tspan></text>
<text x="875.7" y="849.4" font-size="29">HfO<tspan font-size="21" dy="8">2</tspan></text>
<text transform="translate(28.9,364.3) rotate(-90)" font-size="33.5" text-anchor="middle">Counts/s</text>
<text transform="translate(28.9,951.2) rotate(-90)" font-size="33.5" text-anchor="middle">Counts/s</text>
</g>
<path d="M662.5,384.6 H713.8" stroke="#0000ff" stroke-width="1.2" stroke-linecap="round"/>
<path d="M662.5,412.5 H713.8" stroke="#0000ff" stroke-width="2.0" stroke-linecap="round"/>
<path d="M662.5,440.9 H713.8" stroke="#0000ff" stroke-width="3.1" stroke-linecap="round"/>
<path d="M662.5,468.7 H713.8" stroke="#0000ff" stroke-width="4.7" stroke-linecap="round"/>
<path d="M1368.8,385.5 H1420.5" stroke="#ff00ff" stroke-width="1.4" stroke-linecap="round"/>
<path d="M1368.8,413.4 H1420.5" stroke="#ff00ff" stroke-width="2.8" stroke-linecap="round"/>
<path d="M1368.8,441.5 H1420.5" stroke="#ff00ff" stroke-width="4.1" stroke-linecap="round"/>
<path d="M1368.8,469.6 H1420.5" stroke="#ff00ff" stroke-width="5.8" stroke-linecap="round"/>
<path d="M667.5,978.6 H713.5" stroke="#ff0000" stroke-width="1.4" stroke-linecap="round"/>
<path d="M667.5,1003.5 H713.5" stroke="#ff0000" stroke-width="2.7" stroke-linecap="round"/>
<path d="M667.5,1028.0 H713.5" stroke="#ff0000" stroke-width="3.7" stroke-linecap="round"/>
<path d="M667.5,1051.9 H713.5" stroke="#ff0000" stroke-width="5.1" stroke-linecap="round"/>
<path d="M1379.5,980.7 H1425.3" stroke="#ff8000" stroke-width="1.2" stroke-linecap="round"/>
<path d="M1379.5,1005.2 H1425.3" stroke="#ff8000" stroke-width="2.4" stroke-linecap="round"/>
<path d="M1379.5,1030.0 H1425.3" stroke="#ff8000" stroke-width="3.5" stroke-linecap="round"/>
<path d="M1379.5,1053.7 H1425.3" stroke="#ff8000" stroke-width="5.0" stroke-linecap="round"/>
<path fill="#000" d="M59.89,482.20 L59.89,466.98 L55.66,469.77 L55.66,467.68 L60.07,464.86 L62.12,464.86 L62.12,482.20 Z M59.89,1067.70 L59.89,1052.48 L55.66,1055.27 L55.66,1053.18 L60.07,1050.36 L62.12,1050.36 L62.12,1067.70 Z M1428.60,130.10 L1428.60,112.58 L1423.73,115.80 L1423.73,113.39 L1428.82,110.15 L1431.17,110.15 L1431.17,130.10 Z M1428.80,718.20 L1428.80,700.68 L1423.93,703.90 L1423.93,701.49 L1429.02,698.25 L1431.37,698.25 L1431.37,718.20 Z M725.94,449.40 L725.94,434.18 L721.70,436.97 L721.70,434.88 L726.12,432.06 L728.16,432.06 L728.16,449.40 Z M725.94,477.60 L725.94,462.38 L721.70,465.17 L721.70,463.08 L726.12,460.26 L728.16,460.26 L728.16,477.60 Z M1432.74,449.00 L1432.74,433.78 L1428.50,436.57 L1428.50,434.48 L1432.92,431.66 L1434.96,431.66 L1434.96,449.00 Z M1432.74,477.20 L1432.74,461.98 L1428.50,464.77 L1428.50,462.68 L1432.92,459.86 L1434.96,459.86 L1434.96,477.20 Z M724.14,1034.90 L724.14,1019.68 L719.90,1022.47 L719.90,1020.38 L724.32,1017.56 L726.36,1017.56 L726.36,1034.90 Z M724.14,1062.70 L724.14,1047.48 L719.90,1050.27 L719.90,1048.18 L724.32,1045.36 L726.36,1045.36 L726.36,1062.70 Z M1434.14,1037.10 L1434.14,1021.88 L1429.90,1024.67 L1429.90,1022.58 L1434.32,1019.76 L1436.36,1019.76 L1436.36,1037.10 Z M1434.14,1061.40 L1434.14,1046.18 L1429.90,1048.97 L1429.90,1046.88 L1434.32,1044.06 L1436.36,1044.06 L1436.36,1061.40 Z"/>
</svg>
</body></html>
